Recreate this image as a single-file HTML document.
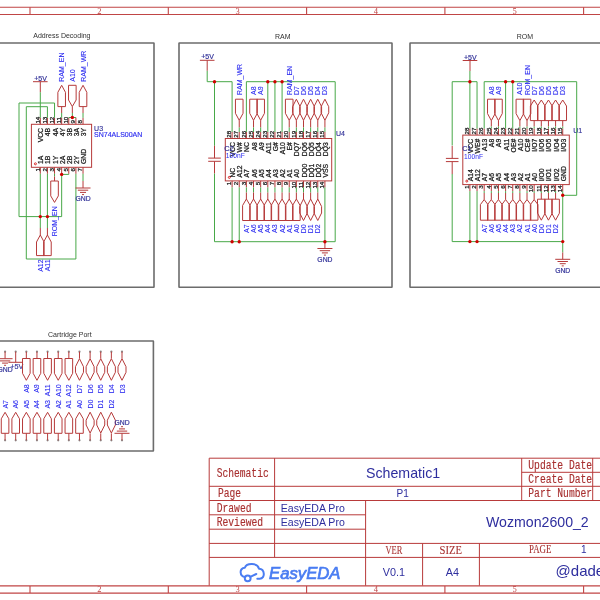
<!DOCTYPE html><html><head><meta charset="utf-8"><style>html,body{margin:0;padding:0;background:#fff;overflow:hidden}svg{display:block;will-change:transform}</style></head><body>
<svg width="600" height="600" viewBox="0 0 600 600">
<rect width="600" height="600" fill="#ffffff"/>
<line x1="0" y1="7.25" x2="600" y2="7.25" stroke="#c04545" stroke-width="1.2"/>
<line x1="0" y1="14.5" x2="600" y2="14.5" stroke="#c04545" stroke-width="1.2"/>
<line x1="0" y1="585.9" x2="600" y2="585.9" stroke="#c04545" stroke-width="1.2"/>
<line x1="0" y1="593.1" x2="600" y2="593.1" stroke="#c04545" stroke-width="1.2"/>
<line x1="30" y1="7.25" x2="30" y2="14.5" stroke="#c04545" stroke-width="1.1"/>
<line x1="30" y1="585.9" x2="30" y2="593.1" stroke="#c04545" stroke-width="1.1"/>
<line x1="168.3" y1="7.25" x2="168.3" y2="14.5" stroke="#c04545" stroke-width="1.1"/>
<line x1="168.3" y1="585.9" x2="168.3" y2="593.1" stroke="#c04545" stroke-width="1.1"/>
<line x1="306.6" y1="7.25" x2="306.6" y2="14.5" stroke="#c04545" stroke-width="1.1"/>
<line x1="306.6" y1="585.9" x2="306.6" y2="593.1" stroke="#c04545" stroke-width="1.1"/>
<line x1="444.9" y1="7.25" x2="444.9" y2="14.5" stroke="#c04545" stroke-width="1.1"/>
<line x1="444.9" y1="585.9" x2="444.9" y2="593.1" stroke="#c04545" stroke-width="1.1"/>
<line x1="583.6" y1="7.25" x2="583.6" y2="14.5" stroke="#c04545" stroke-width="1.1"/>
<line x1="583.6" y1="585.9" x2="583.6" y2="593.1" stroke="#c04545" stroke-width="1.1"/>
<text x="99.25" y="14" font-size="8.5" fill="#c04545" text-anchor="middle" font-family="Liberation Serif" >2</text>
<text x="99.25" y="592.2" font-size="8.5" fill="#c04545" text-anchor="middle" font-family="Liberation Serif" >2</text>
<text x="237.5" y="14" font-size="8.5" fill="#c04545" text-anchor="middle" font-family="Liberation Serif" >3</text>
<text x="237.5" y="592.2" font-size="8.5" fill="#c04545" text-anchor="middle" font-family="Liberation Serif" >3</text>
<text x="375.8" y="14" font-size="8.5" fill="#c04545" text-anchor="middle" font-family="Liberation Serif" >4</text>
<text x="375.8" y="592.2" font-size="8.5" fill="#c04545" text-anchor="middle" font-family="Liberation Serif" >4</text>
<text x="514.5" y="14" font-size="8.5" fill="#c04545" text-anchor="middle" font-family="Liberation Serif" >5</text>
<text x="514.5" y="592.2" font-size="8.5" fill="#c04545" text-anchor="middle" font-family="Liberation Serif" >5</text>
<rect x="-10" y="43" width="164" height="244.3" rx="0.3" fill="none" stroke="#6c6c6c" stroke-width="1.6"/>
<rect x="179" y="43" width="213" height="244.3" rx="0.3" fill="none" stroke="#6c6c6c" stroke-width="1.6"/>
<rect x="410" y="43" width="210" height="244.3" rx="0.3" fill="none" stroke="#6c6c6c" stroke-width="1.6"/>
<rect x="-10" y="341" width="163.4" height="110" rx="0.3" fill="none" stroke="#6c6c6c" stroke-width="1.6"/>
<text x="33.3" y="38.4" font-size="7" fill="#303030" text-anchor="start" font-family="Liberation Sans" >Address Decoding</text>
<text x="275" y="38.6" font-size="7" fill="#303030" text-anchor="start" font-family="Liberation Sans" >RAM</text>
<text x="516.7" y="38.6" font-size="7" fill="#303030" text-anchor="start" font-family="Liberation Sans" >ROM</text>
<text x="48" y="336.7" font-size="7" fill="#303030" text-anchor="start" font-family="Liberation Sans" >Cartridge Port</text>
<rect x="31.4" y="124.3" width="60.2" height="43" fill="none" stroke="#b63a3a" stroke-width="1"/>
<line x1="40.3" y1="117.8" x2="40.3" y2="124.3" stroke="#b63a3a" stroke-width="1.0"/>
<text transform="translate(39.52,123.6) rotate(-90)" font-size="6.2" fill="#202020" text-anchor="start" font-family="Liberation Sans" stroke="#202020" stroke-width="0.25">14</text>
<text transform="translate(43.33,128) rotate(-90)" font-size="6.8" fill="#202020" text-anchor="end" font-family="Liberation Sans" stroke="#202020" stroke-width="0.25">VCC</text>
<line x1="40.3" y1="167.3" x2="40.3" y2="173.8" stroke="#b63a3a" stroke-width="1.0"/>
<text transform="translate(39.52,168.1) rotate(-90)" font-size="6.2" fill="#202020" text-anchor="end" font-family="Liberation Sans" stroke="#202020" stroke-width="0.25">1</text>
<text transform="translate(43.33,164) rotate(-90)" font-size="6.8" fill="#202020" text-anchor="start" font-family="Liberation Sans" stroke="#202020" stroke-width="0.25">1A</text>
<line x1="47.42" y1="117.8" x2="47.42" y2="124.3" stroke="#b63a3a" stroke-width="1.0"/>
<text transform="translate(46.64,123.6) rotate(-90)" font-size="6.2" fill="#202020" text-anchor="start" font-family="Liberation Sans" stroke="#202020" stroke-width="0.25">13</text>
<text transform="translate(50.45,128) rotate(-90)" font-size="6.8" fill="#202020" text-anchor="end" font-family="Liberation Sans" stroke="#202020" stroke-width="0.25">4B</text>
<line x1="47.42" y1="167.3" x2="47.42" y2="173.8" stroke="#b63a3a" stroke-width="1.0"/>
<text transform="translate(46.64,168.1) rotate(-90)" font-size="6.2" fill="#202020" text-anchor="end" font-family="Liberation Sans" stroke="#202020" stroke-width="0.25">2</text>
<text transform="translate(50.45,164) rotate(-90)" font-size="6.8" fill="#202020" text-anchor="start" font-family="Liberation Sans" stroke="#202020" stroke-width="0.25">1B</text>
<line x1="54.54" y1="117.8" x2="54.54" y2="124.3" stroke="#b63a3a" stroke-width="1.0"/>
<text transform="translate(53.76,123.6) rotate(-90)" font-size="6.2" fill="#202020" text-anchor="start" font-family="Liberation Sans" stroke="#202020" stroke-width="0.25">12</text>
<text transform="translate(57.57,128) rotate(-90)" font-size="6.8" fill="#202020" text-anchor="end" font-family="Liberation Sans" stroke="#202020" stroke-width="0.25">4A</text>
<line x1="54.54" y1="167.3" x2="54.54" y2="173.8" stroke="#b63a3a" stroke-width="1.0"/>
<text transform="translate(53.76,168.1) rotate(-90)" font-size="6.2" fill="#202020" text-anchor="end" font-family="Liberation Sans" stroke="#202020" stroke-width="0.25">3</text>
<text transform="translate(57.57,164) rotate(-90)" font-size="6.8" fill="#202020" text-anchor="start" font-family="Liberation Sans" stroke="#202020" stroke-width="0.25">1Y</text>
<line x1="61.66" y1="117.8" x2="61.66" y2="124.3" stroke="#b63a3a" stroke-width="1.0"/>
<text transform="translate(60.88,123.6) rotate(-90)" font-size="6.2" fill="#202020" text-anchor="start" font-family="Liberation Sans" stroke="#202020" stroke-width="0.25">11</text>
<text transform="translate(64.69,128) rotate(-90)" font-size="6.8" fill="#202020" text-anchor="end" font-family="Liberation Sans" stroke="#202020" stroke-width="0.25">4Y</text>
<line x1="61.66" y1="167.3" x2="61.66" y2="173.8" stroke="#b63a3a" stroke-width="1.0"/>
<text transform="translate(60.88,168.1) rotate(-90)" font-size="6.2" fill="#202020" text-anchor="end" font-family="Liberation Sans" stroke="#202020" stroke-width="0.25">4</text>
<text transform="translate(64.69,164) rotate(-90)" font-size="6.8" fill="#202020" text-anchor="start" font-family="Liberation Sans" stroke="#202020" stroke-width="0.25">2A</text>
<line x1="68.78" y1="117.8" x2="68.78" y2="124.3" stroke="#b63a3a" stroke-width="1.0"/>
<text transform="translate(68,123.6) rotate(-90)" font-size="6.2" fill="#202020" text-anchor="start" font-family="Liberation Sans" stroke="#202020" stroke-width="0.25">10</text>
<text transform="translate(71.81,128) rotate(-90)" font-size="6.8" fill="#202020" text-anchor="end" font-family="Liberation Sans" stroke="#202020" stroke-width="0.25">3B</text>
<line x1="68.78" y1="167.3" x2="68.78" y2="173.8" stroke="#b63a3a" stroke-width="1.0"/>
<text transform="translate(68,168.1) rotate(-90)" font-size="6.2" fill="#202020" text-anchor="end" font-family="Liberation Sans" stroke="#202020" stroke-width="0.25">5</text>
<text transform="translate(71.81,164) rotate(-90)" font-size="6.8" fill="#202020" text-anchor="start" font-family="Liberation Sans" stroke="#202020" stroke-width="0.25">2B</text>
<line x1="75.9" y1="117.8" x2="75.9" y2="124.3" stroke="#b63a3a" stroke-width="1.0"/>
<text transform="translate(75.12,123.6) rotate(-90)" font-size="6.2" fill="#202020" text-anchor="start" font-family="Liberation Sans" stroke="#202020" stroke-width="0.25">9</text>
<text transform="translate(78.93,128) rotate(-90)" font-size="6.8" fill="#202020" text-anchor="end" font-family="Liberation Sans" stroke="#202020" stroke-width="0.25">3A</text>
<line x1="75.9" y1="167.3" x2="75.9" y2="173.8" stroke="#b63a3a" stroke-width="1.0"/>
<text transform="translate(75.12,168.1) rotate(-90)" font-size="6.2" fill="#202020" text-anchor="end" font-family="Liberation Sans" stroke="#202020" stroke-width="0.25">6</text>
<text transform="translate(78.93,164) rotate(-90)" font-size="6.8" fill="#202020" text-anchor="start" font-family="Liberation Sans" stroke="#202020" stroke-width="0.25">2Y</text>
<line x1="83.02" y1="117.8" x2="83.02" y2="124.3" stroke="#b63a3a" stroke-width="1.0"/>
<text transform="translate(82.24,123.6) rotate(-90)" font-size="6.2" fill="#202020" text-anchor="start" font-family="Liberation Sans" stroke="#202020" stroke-width="0.25">8</text>
<text transform="translate(86.05,128) rotate(-90)" font-size="6.8" fill="#202020" text-anchor="end" font-family="Liberation Sans" stroke="#202020" stroke-width="0.25">3Y</text>
<line x1="83.02" y1="167.3" x2="83.02" y2="173.8" stroke="#b63a3a" stroke-width="1.0"/>
<text transform="translate(82.24,168.1) rotate(-90)" font-size="6.2" fill="#202020" text-anchor="end" font-family="Liberation Sans" stroke="#202020" stroke-width="0.25">7</text>
<text transform="translate(86.05,164) rotate(-90)" font-size="6.8" fill="#202020" text-anchor="start" font-family="Liberation Sans" stroke="#202020" stroke-width="0.25">GND</text>
<circle cx="35.4" cy="163.8" r="1" fill="none" stroke="#d00000" stroke-width="0.8"/>
<text x="94.1" y="130.8" font-size="7" fill="#34349a" text-anchor="start" font-family="Liberation Sans" stroke="#34349a" stroke-width="0.15">U3</text>
<text x="94.1" y="137.2" font-size="7" fill="#2c2cf0" text-anchor="start" font-family="Liberation Sans" stroke="#2c2cf0" stroke-width="0.15">SN74ALS00AN</text>
<line x1="33" y1="81.7" x2="47.6" y2="81.7" stroke="#b63a3a" stroke-width="1.0"/>
<line x1="40.3" y1="81.7" x2="40.3" y2="92.2" stroke="#b63a3a" stroke-width="1.0"/>
<text x="40.6" y="80.8" font-size="7.0" fill="#34349a" text-anchor="middle" font-family="Liberation Sans" stroke="#34349a" stroke-width="0.2">+5V</text>
<polyline points="40.3,92.2 40.3,117.8" stroke="#48a848" stroke-width="1.0" fill="none" stroke-linejoin="miter"/>
<polygon points="61.66,85.3 65.46,92.3 65.46,106.6 57.86,106.6 57.86,92.3" stroke="#b63a3a" stroke-width="1.0" fill="none" stroke-linejoin="miter"/>
<line x1="61.66" y1="106.6" x2="61.66" y2="113" stroke="#b63a3a" stroke-width="1.0"/>
<polyline points="61.66,113 61.66,117.8" stroke="#48a848" stroke-width="1.0" fill="none" stroke-linejoin="miter"/>
<text transform="translate(64.17,81.7) rotate(-90)" font-size="7.0" fill="#2c2cf0" text-anchor="start" font-family="Liberation Sans" stroke="#2c2cf0" stroke-width="0.1">RAM_EN</text>
<polygon points="68.54,85.3 76.14,85.3 76.14,100 72.34,106.5 68.54,100" stroke="#b63a3a" stroke-width="1.0" fill="none" stroke-linejoin="miter"/>
<line x1="72.34" y1="106.5" x2="72.34" y2="113" stroke="#b63a3a" stroke-width="1.0"/>
<polyline points="72.34,113 72.34,117.5" stroke="#48a848" stroke-width="1.0" fill="none" stroke-linejoin="miter"/>
<text transform="translate(74.85,81.7) rotate(-90)" font-size="7.0" fill="#2c2cf0" text-anchor="start" font-family="Liberation Sans" stroke="#2c2cf0" stroke-width="0.1">A10</text>
<polygon points="83.02,85.3 86.82,92.3 86.82,106.6 79.22,106.6 79.22,92.3" stroke="#b63a3a" stroke-width="1.0" fill="none" stroke-linejoin="miter"/>
<line x1="83.02" y1="106.6" x2="83.02" y2="113" stroke="#b63a3a" stroke-width="1.0"/>
<polyline points="83.02,113 83.02,117.8" stroke="#48a848" stroke-width="1.0" fill="none" stroke-linejoin="miter"/>
<text transform="translate(85.53,81.7) rotate(-90)" font-size="7.0" fill="#2c2cf0" text-anchor="start" font-family="Liberation Sans" stroke="#2c2cf0" stroke-width="0.1">RAM_WR</text>
<polyline points="68.78,117.8 68.78,117.5 75.9,117.5 75.9,117.8" stroke="#48a848" stroke-width="1.0" fill="none" stroke-linejoin="miter"/>
<polyline points="54.54,117.8 54.54,103 19,103 19,216.6 61.66,216.6 61.66,173.8" stroke="#48a848" stroke-width="1.0" fill="none" stroke-linejoin="miter"/>
<polyline points="47.42,117.8 47.42,106.7 26.3,106.7 26.3,259 75.9,259 75.9,173.8" stroke="#48a848" stroke-width="1.0" fill="none" stroke-linejoin="miter"/>
<polyline points="68.78,173.8 68.78,174.4 61.66,174.4" stroke="#48a848" stroke-width="1.0" fill="none" stroke-linejoin="miter"/>
<polyline points="40.3,173.8 40.3,228" stroke="#48a848" stroke-width="1.0" fill="none" stroke-linejoin="miter"/>
<line x1="40.3" y1="228" x2="40.3" y2="235" stroke="#b63a3a" stroke-width="1.0"/>
<polygon points="40.3,235 44.1,242 44.1,255.6 36.5,255.6 36.5,242" stroke="#b63a3a" stroke-width="1.0" fill="none" stroke-linejoin="miter"/>
<text transform="translate(42.81,259.4) rotate(-90)" font-size="7.0" fill="#2c2cf0" text-anchor="end" font-family="Liberation Sans" stroke="#2c2cf0" stroke-width="0.1">A12</text>
<polyline points="47.42,173.8 47.42,228" stroke="#48a848" stroke-width="1.0" fill="none" stroke-linejoin="miter"/>
<line x1="47.42" y1="228" x2="47.42" y2="235" stroke="#b63a3a" stroke-width="1.0"/>
<polygon points="47.42,235 51.22,242 51.22,255.6 43.62,255.6 43.62,242" stroke="#b63a3a" stroke-width="1.0" fill="none" stroke-linejoin="miter"/>
<text transform="translate(49.93,259.4) rotate(-90)" font-size="7.0" fill="#2c2cf0" text-anchor="end" font-family="Liberation Sans" stroke="#2c2cf0" stroke-width="0.1">A11</text>
<polyline points="54.54,173.8 54.54,176.5" stroke="#48a848" stroke-width="1.0" fill="none" stroke-linejoin="miter"/>
<line x1="54.54" y1="176.5" x2="54.54" y2="181" stroke="#b63a3a" stroke-width="1.0"/>
<polygon points="50.74,181 58.34,181 58.34,195.9 54.54,202.4 50.74,195.9" stroke="#b63a3a" stroke-width="1.0" fill="none" stroke-linejoin="miter"/>
<text transform="translate(57.05,206.3) rotate(-90)" font-size="7.0" fill="#2c2cf0" text-anchor="end" font-family="Liberation Sans" stroke="#2c2cf0" stroke-width="0.1">ROM_EN</text>
<polyline points="83.02,173.8 83.02,181" stroke="#48a848" stroke-width="1.0" fill="none" stroke-linejoin="miter"/>
<line x1="83.02" y1="181" x2="83.02" y2="188" stroke="#b63a3a" stroke-width="1.0"/>
<line x1="75.52" y1="188" x2="90.52" y2="188" stroke="#b63a3a" stroke-width="1.0"/>
<line x1="77.82" y1="190.2" x2="88.22" y2="190.2" stroke="#b63a3a" stroke-width="1.0"/>
<line x1="80.02" y1="192.4" x2="86.02" y2="192.4" stroke="#b63a3a" stroke-width="1.0"/>
<line x1="82.02" y1="194.6" x2="84.02" y2="194.6" stroke="#b63a3a" stroke-width="1.0"/>
<text x="83.02" y="201" font-size="6.8" fill="#34349a" text-anchor="middle" font-family="Liberation Sans" stroke="#34349a" stroke-width="0.2">GND</text>
<rect x="225.3" y="138.5" width="106.4" height="42.4" fill="none" stroke="#b63a3a" stroke-width="1"/>
<line x1="232.1" y1="132" x2="232.1" y2="138.5" stroke="#b63a3a" stroke-width="1.0"/>
<text transform="translate(231.32,137.8) rotate(-90)" font-size="6.2" fill="#202020" text-anchor="start" font-family="Liberation Sans" stroke="#202020" stroke-width="0.25">28</text>
<text transform="translate(235.13,142.2) rotate(-90)" font-size="6.8" fill="#202020" text-anchor="end" font-family="Liberation Sans" stroke="#202020" stroke-width="0.25">VCC</text>
<line x1="232.1" y1="180.9" x2="232.1" y2="187.4" stroke="#b63a3a" stroke-width="1.0"/>
<text transform="translate(231.32,181.7) rotate(-90)" font-size="6.2" fill="#202020" text-anchor="end" font-family="Liberation Sans" stroke="#202020" stroke-width="0.25">1</text>
<text transform="translate(235.13,177.6) rotate(-90)" font-size="6.8" fill="#202020" text-anchor="start" font-family="Liberation Sans" stroke="#202020" stroke-width="0.25">NC</text>
<line x1="239.24" y1="132" x2="239.24" y2="138.5" stroke="#b63a3a" stroke-width="1.0"/>
<text transform="translate(238.46,137.8) rotate(-90)" font-size="6.2" fill="#202020" text-anchor="start" font-family="Liberation Sans" stroke="#202020" stroke-width="0.25">27</text>
<text transform="translate(242.27,142.2) rotate(-90)" font-size="6.8" fill="#202020" text-anchor="end" font-family="Liberation Sans" stroke="#202020" stroke-width="0.25">W#</text>
<line x1="239.24" y1="180.9" x2="239.24" y2="187.4" stroke="#b63a3a" stroke-width="1.0"/>
<text transform="translate(238.46,181.7) rotate(-90)" font-size="6.2" fill="#202020" text-anchor="end" font-family="Liberation Sans" stroke="#202020" stroke-width="0.25">2</text>
<text transform="translate(242.27,177.6) rotate(-90)" font-size="6.8" fill="#202020" text-anchor="start" font-family="Liberation Sans" stroke="#202020" stroke-width="0.25">A12</text>
<line x1="246.38" y1="132" x2="246.38" y2="138.5" stroke="#b63a3a" stroke-width="1.0"/>
<text transform="translate(245.6,137.8) rotate(-90)" font-size="6.2" fill="#202020" text-anchor="start" font-family="Liberation Sans" stroke="#202020" stroke-width="0.25">26</text>
<text transform="translate(249.41,142.2) rotate(-90)" font-size="6.8" fill="#202020" text-anchor="end" font-family="Liberation Sans" stroke="#202020" stroke-width="0.25">NC</text>
<line x1="246.38" y1="180.9" x2="246.38" y2="187.4" stroke="#b63a3a" stroke-width="1.0"/>
<text transform="translate(245.6,181.7) rotate(-90)" font-size="6.2" fill="#202020" text-anchor="end" font-family="Liberation Sans" stroke="#202020" stroke-width="0.25">3</text>
<text transform="translate(249.41,177.6) rotate(-90)" font-size="6.8" fill="#202020" text-anchor="start" font-family="Liberation Sans" stroke="#202020" stroke-width="0.25">A7</text>
<line x1="253.52" y1="132" x2="253.52" y2="138.5" stroke="#b63a3a" stroke-width="1.0"/>
<text transform="translate(252.74,137.8) rotate(-90)" font-size="6.2" fill="#202020" text-anchor="start" font-family="Liberation Sans" stroke="#202020" stroke-width="0.25">25</text>
<text transform="translate(256.55,142.2) rotate(-90)" font-size="6.8" fill="#202020" text-anchor="end" font-family="Liberation Sans" stroke="#202020" stroke-width="0.25">A8</text>
<line x1="253.52" y1="180.9" x2="253.52" y2="187.4" stroke="#b63a3a" stroke-width="1.0"/>
<text transform="translate(252.74,181.7) rotate(-90)" font-size="6.2" fill="#202020" text-anchor="end" font-family="Liberation Sans" stroke="#202020" stroke-width="0.25">4</text>
<text transform="translate(256.55,177.6) rotate(-90)" font-size="6.8" fill="#202020" text-anchor="start" font-family="Liberation Sans" stroke="#202020" stroke-width="0.25">A6</text>
<line x1="260.66" y1="132" x2="260.66" y2="138.5" stroke="#b63a3a" stroke-width="1.0"/>
<text transform="translate(259.88,137.8) rotate(-90)" font-size="6.2" fill="#202020" text-anchor="start" font-family="Liberation Sans" stroke="#202020" stroke-width="0.25">24</text>
<text transform="translate(263.69,142.2) rotate(-90)" font-size="6.8" fill="#202020" text-anchor="end" font-family="Liberation Sans" stroke="#202020" stroke-width="0.25">A9</text>
<line x1="260.66" y1="180.9" x2="260.66" y2="187.4" stroke="#b63a3a" stroke-width="1.0"/>
<text transform="translate(259.88,181.7) rotate(-90)" font-size="6.2" fill="#202020" text-anchor="end" font-family="Liberation Sans" stroke="#202020" stroke-width="0.25">5</text>
<text transform="translate(263.69,177.6) rotate(-90)" font-size="6.8" fill="#202020" text-anchor="start" font-family="Liberation Sans" stroke="#202020" stroke-width="0.25">A5</text>
<line x1="267.8" y1="132" x2="267.8" y2="138.5" stroke="#b63a3a" stroke-width="1.0"/>
<text transform="translate(267.02,137.8) rotate(-90)" font-size="6.2" fill="#202020" text-anchor="start" font-family="Liberation Sans" stroke="#202020" stroke-width="0.25">23</text>
<text transform="translate(270.83,142.2) rotate(-90)" font-size="6.8" fill="#202020" text-anchor="end" font-family="Liberation Sans" stroke="#202020" stroke-width="0.25">A11</text>
<line x1="267.8" y1="180.9" x2="267.8" y2="187.4" stroke="#b63a3a" stroke-width="1.0"/>
<text transform="translate(267.02,181.7) rotate(-90)" font-size="6.2" fill="#202020" text-anchor="end" font-family="Liberation Sans" stroke="#202020" stroke-width="0.25">6</text>
<text transform="translate(270.83,177.6) rotate(-90)" font-size="6.8" fill="#202020" text-anchor="start" font-family="Liberation Sans" stroke="#202020" stroke-width="0.25">A4</text>
<line x1="274.94" y1="132" x2="274.94" y2="138.5" stroke="#b63a3a" stroke-width="1.0"/>
<text transform="translate(274.16,137.8) rotate(-90)" font-size="6.2" fill="#202020" text-anchor="start" font-family="Liberation Sans" stroke="#202020" stroke-width="0.25">22</text>
<text transform="translate(277.97,142.2) rotate(-90)" font-size="6.8" fill="#202020" text-anchor="end" font-family="Liberation Sans" stroke="#202020" stroke-width="0.25">G#</text>
<line x1="274.94" y1="180.9" x2="274.94" y2="187.4" stroke="#b63a3a" stroke-width="1.0"/>
<text transform="translate(274.16,181.7) rotate(-90)" font-size="6.2" fill="#202020" text-anchor="end" font-family="Liberation Sans" stroke="#202020" stroke-width="0.25">7</text>
<text transform="translate(277.97,177.6) rotate(-90)" font-size="6.8" fill="#202020" text-anchor="start" font-family="Liberation Sans" stroke="#202020" stroke-width="0.25">A3</text>
<line x1="282.08" y1="132" x2="282.08" y2="138.5" stroke="#b63a3a" stroke-width="1.0"/>
<text transform="translate(281.3,137.8) rotate(-90)" font-size="6.2" fill="#202020" text-anchor="start" font-family="Liberation Sans" stroke="#202020" stroke-width="0.25">21</text>
<text transform="translate(285.11,142.2) rotate(-90)" font-size="6.8" fill="#202020" text-anchor="end" font-family="Liberation Sans" stroke="#202020" stroke-width="0.25">A10</text>
<line x1="282.08" y1="180.9" x2="282.08" y2="187.4" stroke="#b63a3a" stroke-width="1.0"/>
<text transform="translate(281.3,181.7) rotate(-90)" font-size="6.2" fill="#202020" text-anchor="end" font-family="Liberation Sans" stroke="#202020" stroke-width="0.25">8</text>
<text transform="translate(285.11,177.6) rotate(-90)" font-size="6.8" fill="#202020" text-anchor="start" font-family="Liberation Sans" stroke="#202020" stroke-width="0.25">A2</text>
<line x1="289.22" y1="132" x2="289.22" y2="138.5" stroke="#b63a3a" stroke-width="1.0"/>
<text transform="translate(288.44,137.8) rotate(-90)" font-size="6.2" fill="#202020" text-anchor="start" font-family="Liberation Sans" stroke="#202020" stroke-width="0.25">20</text>
<text transform="translate(292.25,142.2) rotate(-90)" font-size="6.8" fill="#202020" text-anchor="end" font-family="Liberation Sans" stroke="#202020" stroke-width="0.25">E#</text>
<line x1="289.22" y1="180.9" x2="289.22" y2="187.4" stroke="#b63a3a" stroke-width="1.0"/>
<text transform="translate(288.44,181.7) rotate(-90)" font-size="6.2" fill="#202020" text-anchor="end" font-family="Liberation Sans" stroke="#202020" stroke-width="0.25">9</text>
<text transform="translate(292.25,177.6) rotate(-90)" font-size="6.8" fill="#202020" text-anchor="start" font-family="Liberation Sans" stroke="#202020" stroke-width="0.25">A1</text>
<line x1="296.36" y1="132" x2="296.36" y2="138.5" stroke="#b63a3a" stroke-width="1.0"/>
<text transform="translate(295.58,137.8) rotate(-90)" font-size="6.2" fill="#202020" text-anchor="start" font-family="Liberation Sans" stroke="#202020" stroke-width="0.25">19</text>
<text transform="translate(299.39,142.2) rotate(-90)" font-size="6.8" fill="#202020" text-anchor="end" font-family="Liberation Sans" stroke="#202020" stroke-width="0.25">DQ7</text>
<line x1="296.36" y1="180.9" x2="296.36" y2="187.4" stroke="#b63a3a" stroke-width="1.0"/>
<text transform="translate(295.58,181.7) rotate(-90)" font-size="6.2" fill="#202020" text-anchor="end" font-family="Liberation Sans" stroke="#202020" stroke-width="0.25">10</text>
<text transform="translate(299.39,177.6) rotate(-90)" font-size="6.8" fill="#202020" text-anchor="start" font-family="Liberation Sans" stroke="#202020" stroke-width="0.25">A0</text>
<line x1="303.5" y1="132" x2="303.5" y2="138.5" stroke="#b63a3a" stroke-width="1.0"/>
<text transform="translate(302.72,137.8) rotate(-90)" font-size="6.2" fill="#202020" text-anchor="start" font-family="Liberation Sans" stroke="#202020" stroke-width="0.25">18</text>
<text transform="translate(306.53,142.2) rotate(-90)" font-size="6.8" fill="#202020" text-anchor="end" font-family="Liberation Sans" stroke="#202020" stroke-width="0.25">DQ6</text>
<line x1="303.5" y1="180.9" x2="303.5" y2="187.4" stroke="#b63a3a" stroke-width="1.0"/>
<text transform="translate(302.72,181.7) rotate(-90)" font-size="6.2" fill="#202020" text-anchor="end" font-family="Liberation Sans" stroke="#202020" stroke-width="0.25">11</text>
<text transform="translate(306.53,177.6) rotate(-90)" font-size="6.8" fill="#202020" text-anchor="start" font-family="Liberation Sans" stroke="#202020" stroke-width="0.25">DQ0</text>
<line x1="310.64" y1="132" x2="310.64" y2="138.5" stroke="#b63a3a" stroke-width="1.0"/>
<text transform="translate(309.86,137.8) rotate(-90)" font-size="6.2" fill="#202020" text-anchor="start" font-family="Liberation Sans" stroke="#202020" stroke-width="0.25">17</text>
<text transform="translate(313.67,142.2) rotate(-90)" font-size="6.8" fill="#202020" text-anchor="end" font-family="Liberation Sans" stroke="#202020" stroke-width="0.25">DQ5</text>
<line x1="310.64" y1="180.9" x2="310.64" y2="187.4" stroke="#b63a3a" stroke-width="1.0"/>
<text transform="translate(309.86,181.7) rotate(-90)" font-size="6.2" fill="#202020" text-anchor="end" font-family="Liberation Sans" stroke="#202020" stroke-width="0.25">12</text>
<text transform="translate(313.67,177.6) rotate(-90)" font-size="6.8" fill="#202020" text-anchor="start" font-family="Liberation Sans" stroke="#202020" stroke-width="0.25">DQ1</text>
<line x1="317.78" y1="132" x2="317.78" y2="138.5" stroke="#b63a3a" stroke-width="1.0"/>
<text transform="translate(317,137.8) rotate(-90)" font-size="6.2" fill="#202020" text-anchor="start" font-family="Liberation Sans" stroke="#202020" stroke-width="0.25">16</text>
<text transform="translate(320.81,142.2) rotate(-90)" font-size="6.8" fill="#202020" text-anchor="end" font-family="Liberation Sans" stroke="#202020" stroke-width="0.25">DQ4</text>
<line x1="317.78" y1="180.9" x2="317.78" y2="187.4" stroke="#b63a3a" stroke-width="1.0"/>
<text transform="translate(317,181.7) rotate(-90)" font-size="6.2" fill="#202020" text-anchor="end" font-family="Liberation Sans" stroke="#202020" stroke-width="0.25">13</text>
<text transform="translate(320.81,177.6) rotate(-90)" font-size="6.8" fill="#202020" text-anchor="start" font-family="Liberation Sans" stroke="#202020" stroke-width="0.25">DQ2</text>
<line x1="324.92" y1="132" x2="324.92" y2="138.5" stroke="#b63a3a" stroke-width="1.0"/>
<text transform="translate(324.14,137.8) rotate(-90)" font-size="6.2" fill="#202020" text-anchor="start" font-family="Liberation Sans" stroke="#202020" stroke-width="0.25">15</text>
<text transform="translate(327.95,142.2) rotate(-90)" font-size="6.8" fill="#202020" text-anchor="end" font-family="Liberation Sans" stroke="#202020" stroke-width="0.25">DQ3</text>
<line x1="324.92" y1="180.9" x2="324.92" y2="187.4" stroke="#b63a3a" stroke-width="1.0"/>
<text transform="translate(324.14,181.7) rotate(-90)" font-size="6.2" fill="#202020" text-anchor="end" font-family="Liberation Sans" stroke="#202020" stroke-width="0.25">14</text>
<text transform="translate(327.95,177.6) rotate(-90)" font-size="6.8" fill="#202020" text-anchor="start" font-family="Liberation Sans" stroke="#202020" stroke-width="0.25">VSS</text>
<circle cx="229.3" cy="177.4" r="1" fill="none" stroke="#d00000" stroke-width="0.8"/>
<text x="336" y="136" font-size="7" fill="#34349a" text-anchor="start" font-family="Liberation Sans" stroke="#34349a" stroke-width="0.15">U4</text>
<line x1="199.9" y1="60.3" x2="214.5" y2="60.3" stroke="#b63a3a" stroke-width="1.0"/>
<line x1="207.2" y1="60.3" x2="207.2" y2="70.8" stroke="#b63a3a" stroke-width="1.0"/>
<text x="207.5" y="59.4" font-size="7.0" fill="#34349a" text-anchor="middle" font-family="Liberation Sans" stroke="#34349a" stroke-width="0.2">+5V</text>
<polyline points="207.2,70.8 207.2,81.7 232.1,81.7 232.1,132" stroke="#48a848" stroke-width="1.0" fill="none" stroke-linejoin="miter"/>
<polyline points="214.5,81.7 214.5,145.8" stroke="#48a848" stroke-width="1.0" fill="none" stroke-linejoin="miter"/>
<line x1="214.5" y1="145.8" x2="214.5" y2="158.1" stroke="#b63a3a" stroke-width="1.0"/>
<line x1="214.5" y1="161.3" x2="214.5" y2="173.6" stroke="#b63a3a" stroke-width="1.0"/>
<line x1="208.2" y1="158.1" x2="220.8" y2="158.1" stroke="#b63a3a" stroke-width="1.0"/>
<line x1="208.2" y1="161.3" x2="220.8" y2="161.3" stroke="#b63a3a" stroke-width="1.0"/>
<polyline points="214.5,173.6 214.5,241.7 335.2,241.7 335.2,81.7 246.38,81.7 246.38,132" stroke="#48a848" stroke-width="1.0" fill="none" stroke-linejoin="miter"/>
<polyline points="267.8,81.7 267.8,132" stroke="#48a848" stroke-width="1.0" fill="none" stroke-linejoin="miter"/>
<polyline points="274.94,81.7 274.94,132" stroke="#48a848" stroke-width="1.0" fill="none" stroke-linejoin="miter"/>
<polyline points="282.08,81.7 282.08,132" stroke="#48a848" stroke-width="1.0" fill="none" stroke-linejoin="miter"/>
<text x="224.2" y="150.8" font-size="7.3" fill="#34349a" text-anchor="start" font-family="Liberation Sans" stroke="#34349a" stroke-width="0.15">C2</text>
<text x="225.8" y="157.8" font-size="6.7" fill="#2c2cf0" text-anchor="start" font-family="Liberation Sans" >100nF</text>
<polygon points="235.44,99.2 243.04,99.2 243.04,113.3 239.24,120.3 235.44,113.3" stroke="#b63a3a" stroke-width="1.0" fill="none" stroke-linejoin="miter"/>
<line x1="239.24" y1="120.3" x2="239.24" y2="127.5" stroke="#b63a3a" stroke-width="1.0"/>
<polyline points="239.24,127.5 239.24,132" stroke="#48a848" stroke-width="1.0" fill="none" stroke-linejoin="miter"/>
<text transform="translate(241.75,95) rotate(-90)" font-size="7.0" fill="#2c2cf0" text-anchor="start" font-family="Liberation Sans" stroke="#2c2cf0" stroke-width="0.1">RAM_WR</text>
<polygon points="249.72,99.2 257.32,99.2 257.32,113.3 253.52,120.3 249.72,113.3" stroke="#b63a3a" stroke-width="1.0" fill="none" stroke-linejoin="miter"/>
<line x1="253.52" y1="120.3" x2="253.52" y2="127.5" stroke="#b63a3a" stroke-width="1.0"/>
<polyline points="253.52,127.5 253.52,132" stroke="#48a848" stroke-width="1.0" fill="none" stroke-linejoin="miter"/>
<text transform="translate(256.03,95) rotate(-90)" font-size="7.0" fill="#2c2cf0" text-anchor="start" font-family="Liberation Sans" stroke="#2c2cf0" stroke-width="0.1">A8</text>
<polygon points="256.86,99.2 264.46,99.2 264.46,113.3 260.66,120.3 256.86,113.3" stroke="#b63a3a" stroke-width="1.0" fill="none" stroke-linejoin="miter"/>
<line x1="260.66" y1="120.3" x2="260.66" y2="127.5" stroke="#b63a3a" stroke-width="1.0"/>
<polyline points="260.66,127.5 260.66,132" stroke="#48a848" stroke-width="1.0" fill="none" stroke-linejoin="miter"/>
<text transform="translate(263.17,95) rotate(-90)" font-size="7.0" fill="#2c2cf0" text-anchor="start" font-family="Liberation Sans" stroke="#2c2cf0" stroke-width="0.1">A9</text>
<polygon points="285.42,99.2 293.02,99.2 293.02,113.3 289.22,120.3 285.42,113.3" stroke="#b63a3a" stroke-width="1.0" fill="none" stroke-linejoin="miter"/>
<line x1="289.22" y1="120.3" x2="289.22" y2="127.5" stroke="#b63a3a" stroke-width="1.0"/>
<polyline points="289.22,127.5 289.22,132" stroke="#48a848" stroke-width="1.0" fill="none" stroke-linejoin="miter"/>
<text transform="translate(291.73,95) rotate(-90)" font-size="7.0" fill="#2c2cf0" text-anchor="start" font-family="Liberation Sans" stroke="#2c2cf0" stroke-width="0.1">RAM_EN</text>
<polygon points="296.36,99.2 300.16,106.7 300.16,112.8 296.36,120.3 292.56,112.8 292.56,106.7" stroke="#b63a3a" stroke-width="1.0" fill="none" stroke-linejoin="miter"/>
<line x1="296.36" y1="120.3" x2="296.36" y2="127.5" stroke="#b63a3a" stroke-width="1.0"/>
<polyline points="296.36,127.5 296.36,132" stroke="#48a848" stroke-width="1.0" fill="none" stroke-linejoin="miter"/>
<text transform="translate(298.87,95) rotate(-90)" font-size="7.0" fill="#2c2cf0" text-anchor="start" font-family="Liberation Sans" stroke="#2c2cf0" stroke-width="0.1">D7</text>
<polygon points="303.5,99.2 307.3,106.7 307.3,112.8 303.5,120.3 299.7,112.8 299.7,106.7" stroke="#b63a3a" stroke-width="1.0" fill="none" stroke-linejoin="miter"/>
<line x1="303.5" y1="120.3" x2="303.5" y2="127.5" stroke="#b63a3a" stroke-width="1.0"/>
<polyline points="303.5,127.5 303.5,132" stroke="#48a848" stroke-width="1.0" fill="none" stroke-linejoin="miter"/>
<text transform="translate(306.01,95) rotate(-90)" font-size="7.0" fill="#2c2cf0" text-anchor="start" font-family="Liberation Sans" stroke="#2c2cf0" stroke-width="0.1">D6</text>
<polygon points="310.64,99.2 314.44,106.7 314.44,112.8 310.64,120.3 306.84,112.8 306.84,106.7" stroke="#b63a3a" stroke-width="1.0" fill="none" stroke-linejoin="miter"/>
<line x1="310.64" y1="120.3" x2="310.64" y2="127.5" stroke="#b63a3a" stroke-width="1.0"/>
<polyline points="310.64,127.5 310.64,132" stroke="#48a848" stroke-width="1.0" fill="none" stroke-linejoin="miter"/>
<text transform="translate(313.15,95) rotate(-90)" font-size="7.0" fill="#2c2cf0" text-anchor="start" font-family="Liberation Sans" stroke="#2c2cf0" stroke-width="0.1">D5</text>
<polygon points="317.78,99.2 321.58,106.7 321.58,112.8 317.78,120.3 313.98,112.8 313.98,106.7" stroke="#b63a3a" stroke-width="1.0" fill="none" stroke-linejoin="miter"/>
<line x1="317.78" y1="120.3" x2="317.78" y2="127.5" stroke="#b63a3a" stroke-width="1.0"/>
<polyline points="317.78,127.5 317.78,132" stroke="#48a848" stroke-width="1.0" fill="none" stroke-linejoin="miter"/>
<text transform="translate(320.29,95) rotate(-90)" font-size="7.0" fill="#2c2cf0" text-anchor="start" font-family="Liberation Sans" stroke="#2c2cf0" stroke-width="0.1">D4</text>
<polygon points="324.92,99.2 328.72,106.7 328.72,112.8 324.92,120.3 321.12,112.8 321.12,106.7" stroke="#b63a3a" stroke-width="1.0" fill="none" stroke-linejoin="miter"/>
<line x1="324.92" y1="120.3" x2="324.92" y2="127.5" stroke="#b63a3a" stroke-width="1.0"/>
<polyline points="324.92,127.5 324.92,132" stroke="#48a848" stroke-width="1.0" fill="none" stroke-linejoin="miter"/>
<text transform="translate(327.43,95) rotate(-90)" font-size="7.0" fill="#2c2cf0" text-anchor="start" font-family="Liberation Sans" stroke="#2c2cf0" stroke-width="0.1">D3</text>
<polyline points="232.1,187.4 232.1,241.7" stroke="#48a848" stroke-width="1.0" fill="none" stroke-linejoin="miter"/>
<polyline points="239.24,187.4 239.24,241.7" stroke="#48a848" stroke-width="1.0" fill="none" stroke-linejoin="miter"/>
<polyline points="246.38,187.4 246.38,192.5" stroke="#48a848" stroke-width="1.0" fill="none" stroke-linejoin="miter"/>
<line x1="246.38" y1="192.5" x2="246.38" y2="199" stroke="#b63a3a" stroke-width="1.0"/>
<polygon points="246.38,199 250.18,205.5 250.18,220.5 242.58,220.5 242.58,205.5" stroke="#b63a3a" stroke-width="1.0" fill="none" stroke-linejoin="miter"/>
<polyline points="253.52,187.4 253.52,192.5" stroke="#48a848" stroke-width="1.0" fill="none" stroke-linejoin="miter"/>
<line x1="253.52" y1="192.5" x2="253.52" y2="199" stroke="#b63a3a" stroke-width="1.0"/>
<polygon points="253.52,199 257.32,205.5 257.32,220.5 249.72,220.5 249.72,205.5" stroke="#b63a3a" stroke-width="1.0" fill="none" stroke-linejoin="miter"/>
<polyline points="260.66,187.4 260.66,192.5" stroke="#48a848" stroke-width="1.0" fill="none" stroke-linejoin="miter"/>
<line x1="260.66" y1="192.5" x2="260.66" y2="199" stroke="#b63a3a" stroke-width="1.0"/>
<polygon points="260.66,199 264.46,205.5 264.46,220.5 256.86,220.5 256.86,205.5" stroke="#b63a3a" stroke-width="1.0" fill="none" stroke-linejoin="miter"/>
<polyline points="267.8,187.4 267.8,192.5" stroke="#48a848" stroke-width="1.0" fill="none" stroke-linejoin="miter"/>
<line x1="267.8" y1="192.5" x2="267.8" y2="199" stroke="#b63a3a" stroke-width="1.0"/>
<polygon points="267.8,199 271.6,205.5 271.6,220.5 264,220.5 264,205.5" stroke="#b63a3a" stroke-width="1.0" fill="none" stroke-linejoin="miter"/>
<polyline points="274.94,187.4 274.94,192.5" stroke="#48a848" stroke-width="1.0" fill="none" stroke-linejoin="miter"/>
<line x1="274.94" y1="192.5" x2="274.94" y2="199" stroke="#b63a3a" stroke-width="1.0"/>
<polygon points="274.94,199 278.74,205.5 278.74,220.5 271.14,220.5 271.14,205.5" stroke="#b63a3a" stroke-width="1.0" fill="none" stroke-linejoin="miter"/>
<polyline points="282.08,187.4 282.08,192.5" stroke="#48a848" stroke-width="1.0" fill="none" stroke-linejoin="miter"/>
<line x1="282.08" y1="192.5" x2="282.08" y2="199" stroke="#b63a3a" stroke-width="1.0"/>
<polygon points="282.08,199 285.88,205.5 285.88,220.5 278.28,220.5 278.28,205.5" stroke="#b63a3a" stroke-width="1.0" fill="none" stroke-linejoin="miter"/>
<polyline points="289.22,187.4 289.22,192.5" stroke="#48a848" stroke-width="1.0" fill="none" stroke-linejoin="miter"/>
<line x1="289.22" y1="192.5" x2="289.22" y2="199" stroke="#b63a3a" stroke-width="1.0"/>
<polygon points="289.22,199 293.02,205.5 293.02,220.5 285.42,220.5 285.42,205.5" stroke="#b63a3a" stroke-width="1.0" fill="none" stroke-linejoin="miter"/>
<polyline points="296.36,187.4 296.36,192.5" stroke="#48a848" stroke-width="1.0" fill="none" stroke-linejoin="miter"/>
<line x1="296.36" y1="192.5" x2="296.36" y2="199" stroke="#b63a3a" stroke-width="1.0"/>
<polygon points="296.36,199 300.16,205.5 300.16,220.5 292.56,220.5 292.56,205.5" stroke="#b63a3a" stroke-width="1.0" fill="none" stroke-linejoin="miter"/>
<polyline points="303.5,187.4 303.5,192.5" stroke="#48a848" stroke-width="1.0" fill="none" stroke-linejoin="miter"/>
<line x1="303.5" y1="192.5" x2="303.5" y2="199" stroke="#b63a3a" stroke-width="1.0"/>
<polygon points="303.5,199 307.3,206.5 307.3,213 303.5,220.5 299.7,213 299.7,206.5" stroke="#b63a3a" stroke-width="1.0" fill="none" stroke-linejoin="miter"/>
<polyline points="310.64,187.4 310.64,192.5" stroke="#48a848" stroke-width="1.0" fill="none" stroke-linejoin="miter"/>
<line x1="310.64" y1="192.5" x2="310.64" y2="199" stroke="#b63a3a" stroke-width="1.0"/>
<polygon points="310.64,199 314.44,206.5 314.44,213 310.64,220.5 306.84,213 306.84,206.5" stroke="#b63a3a" stroke-width="1.0" fill="none" stroke-linejoin="miter"/>
<polyline points="317.78,187.4 317.78,192.5" stroke="#48a848" stroke-width="1.0" fill="none" stroke-linejoin="miter"/>
<line x1="317.78" y1="192.5" x2="317.78" y2="199" stroke="#b63a3a" stroke-width="1.0"/>
<polygon points="317.78,199 321.58,206.5 321.58,213 317.78,220.5 313.98,213 313.98,206.5" stroke="#b63a3a" stroke-width="1.0" fill="none" stroke-linejoin="miter"/>
<polyline points="324.92,187.4 324.92,241.7" stroke="#48a848" stroke-width="1.0" fill="none" stroke-linejoin="miter"/>
<text transform="translate(248.89,224.4) rotate(-90)" font-size="7.0" fill="#2c2cf0" text-anchor="end" font-family="Liberation Sans" stroke="#2c2cf0" stroke-width="0.1">A7</text>
<text transform="translate(256.03,224.4) rotate(-90)" font-size="7.0" fill="#2c2cf0" text-anchor="end" font-family="Liberation Sans" stroke="#2c2cf0" stroke-width="0.1">A6</text>
<text transform="translate(263.17,224.4) rotate(-90)" font-size="7.0" fill="#2c2cf0" text-anchor="end" font-family="Liberation Sans" stroke="#2c2cf0" stroke-width="0.1">A5</text>
<text transform="translate(270.31,224.4) rotate(-90)" font-size="7.0" fill="#2c2cf0" text-anchor="end" font-family="Liberation Sans" stroke="#2c2cf0" stroke-width="0.1">A4</text>
<text transform="translate(277.45,224.4) rotate(-90)" font-size="7.0" fill="#2c2cf0" text-anchor="end" font-family="Liberation Sans" stroke="#2c2cf0" stroke-width="0.1">A3</text>
<text transform="translate(284.59,224.4) rotate(-90)" font-size="7.0" fill="#2c2cf0" text-anchor="end" font-family="Liberation Sans" stroke="#2c2cf0" stroke-width="0.1">A2</text>
<text transform="translate(291.73,224.4) rotate(-90)" font-size="7.0" fill="#2c2cf0" text-anchor="end" font-family="Liberation Sans" stroke="#2c2cf0" stroke-width="0.1">A1</text>
<text transform="translate(298.87,224.4) rotate(-90)" font-size="7.0" fill="#2c2cf0" text-anchor="end" font-family="Liberation Sans" stroke="#2c2cf0" stroke-width="0.1">A0</text>
<text transform="translate(306.01,224.4) rotate(-90)" font-size="7.0" fill="#2c2cf0" text-anchor="end" font-family="Liberation Sans" stroke="#2c2cf0" stroke-width="0.1">D0</text>
<text transform="translate(313.15,224.4) rotate(-90)" font-size="7.0" fill="#2c2cf0" text-anchor="end" font-family="Liberation Sans" stroke="#2c2cf0" stroke-width="0.1">D1</text>
<text transform="translate(320.29,224.4) rotate(-90)" font-size="7.0" fill="#2c2cf0" text-anchor="end" font-family="Liberation Sans" stroke="#2c2cf0" stroke-width="0.1">D2</text>
<line x1="324.92" y1="241.7" x2="324.92" y2="248.5" stroke="#b63a3a" stroke-width="1.0"/>
<line x1="317.42" y1="248.5" x2="332.42" y2="248.5" stroke="#b63a3a" stroke-width="1.0"/>
<line x1="319.72" y1="250.7" x2="330.12" y2="250.7" stroke="#b63a3a" stroke-width="1.0"/>
<line x1="321.92" y1="252.9" x2="327.92" y2="252.9" stroke="#b63a3a" stroke-width="1.0"/>
<line x1="323.92" y1="255.1" x2="325.92" y2="255.1" stroke="#b63a3a" stroke-width="1.0"/>
<text x="324.92" y="261.5" font-size="6.8" fill="#34349a" text-anchor="middle" font-family="Liberation Sans" stroke="#34349a" stroke-width="0.2">GND</text>
<rect x="462.8" y="135.1" width="106.5" height="49.5" fill="none" stroke="#b63a3a" stroke-width="1"/>
<line x1="469.9" y1="128.6" x2="469.9" y2="135.1" stroke="#b63a3a" stroke-width="1.0"/>
<text transform="translate(469.12,134.4) rotate(-90)" font-size="6.2" fill="#202020" text-anchor="start" font-family="Liberation Sans" stroke="#202020" stroke-width="0.25">28</text>
<text transform="translate(472.93,138.8) rotate(-90)" font-size="6.8" fill="#202020" text-anchor="end" font-family="Liberation Sans" stroke="#202020" stroke-width="0.25">VCC</text>
<line x1="469.9" y1="184.6" x2="469.9" y2="191.1" stroke="#b63a3a" stroke-width="1.0"/>
<text transform="translate(469.12,185.4) rotate(-90)" font-size="6.2" fill="#202020" text-anchor="end" font-family="Liberation Sans" stroke="#202020" stroke-width="0.25">1</text>
<text transform="translate(472.93,181.3) rotate(-90)" font-size="6.8" fill="#202020" text-anchor="start" font-family="Liberation Sans" stroke="#202020" stroke-width="0.25">A14</text>
<line x1="477.04" y1="128.6" x2="477.04" y2="135.1" stroke="#b63a3a" stroke-width="1.0"/>
<text transform="translate(476.26,134.4) rotate(-90)" font-size="6.2" fill="#202020" text-anchor="start" font-family="Liberation Sans" stroke="#202020" stroke-width="0.25">27</text>
<text transform="translate(480.07,138.8) rotate(-90)" font-size="6.8" fill="#202020" text-anchor="end" font-family="Liberation Sans" stroke="#202020" stroke-width="0.25">WE#</text>
<line x1="477.04" y1="184.6" x2="477.04" y2="191.1" stroke="#b63a3a" stroke-width="1.0"/>
<text transform="translate(476.26,185.4) rotate(-90)" font-size="6.2" fill="#202020" text-anchor="end" font-family="Liberation Sans" stroke="#202020" stroke-width="0.25">2</text>
<text transform="translate(480.07,181.3) rotate(-90)" font-size="6.8" fill="#202020" text-anchor="start" font-family="Liberation Sans" stroke="#202020" stroke-width="0.25">A12</text>
<line x1="484.18" y1="128.6" x2="484.18" y2="135.1" stroke="#b63a3a" stroke-width="1.0"/>
<text transform="translate(483.4,134.4) rotate(-90)" font-size="6.2" fill="#202020" text-anchor="start" font-family="Liberation Sans" stroke="#202020" stroke-width="0.25">26</text>
<text transform="translate(487.21,138.8) rotate(-90)" font-size="6.8" fill="#202020" text-anchor="end" font-family="Liberation Sans" stroke="#202020" stroke-width="0.25">A13</text>
<line x1="484.18" y1="184.6" x2="484.18" y2="191.1" stroke="#b63a3a" stroke-width="1.0"/>
<text transform="translate(483.4,185.4) rotate(-90)" font-size="6.2" fill="#202020" text-anchor="end" font-family="Liberation Sans" stroke="#202020" stroke-width="0.25">3</text>
<text transform="translate(487.21,181.3) rotate(-90)" font-size="6.8" fill="#202020" text-anchor="start" font-family="Liberation Sans" stroke="#202020" stroke-width="0.25">A7</text>
<line x1="491.32" y1="128.6" x2="491.32" y2="135.1" stroke="#b63a3a" stroke-width="1.0"/>
<text transform="translate(490.54,134.4) rotate(-90)" font-size="6.2" fill="#202020" text-anchor="start" font-family="Liberation Sans" stroke="#202020" stroke-width="0.25">25</text>
<text transform="translate(494.35,138.8) rotate(-90)" font-size="6.8" fill="#202020" text-anchor="end" font-family="Liberation Sans" stroke="#202020" stroke-width="0.25">A8</text>
<line x1="491.32" y1="184.6" x2="491.32" y2="191.1" stroke="#b63a3a" stroke-width="1.0"/>
<text transform="translate(490.54,185.4) rotate(-90)" font-size="6.2" fill="#202020" text-anchor="end" font-family="Liberation Sans" stroke="#202020" stroke-width="0.25">4</text>
<text transform="translate(494.35,181.3) rotate(-90)" font-size="6.8" fill="#202020" text-anchor="start" font-family="Liberation Sans" stroke="#202020" stroke-width="0.25">A6</text>
<line x1="498.46" y1="128.6" x2="498.46" y2="135.1" stroke="#b63a3a" stroke-width="1.0"/>
<text transform="translate(497.68,134.4) rotate(-90)" font-size="6.2" fill="#202020" text-anchor="start" font-family="Liberation Sans" stroke="#202020" stroke-width="0.25">24</text>
<text transform="translate(501.49,138.8) rotate(-90)" font-size="6.8" fill="#202020" text-anchor="end" font-family="Liberation Sans" stroke="#202020" stroke-width="0.25">A9</text>
<line x1="498.46" y1="184.6" x2="498.46" y2="191.1" stroke="#b63a3a" stroke-width="1.0"/>
<text transform="translate(497.68,185.4) rotate(-90)" font-size="6.2" fill="#202020" text-anchor="end" font-family="Liberation Sans" stroke="#202020" stroke-width="0.25">5</text>
<text transform="translate(501.49,181.3) rotate(-90)" font-size="6.8" fill="#202020" text-anchor="start" font-family="Liberation Sans" stroke="#202020" stroke-width="0.25">A5</text>
<line x1="505.6" y1="128.6" x2="505.6" y2="135.1" stroke="#b63a3a" stroke-width="1.0"/>
<text transform="translate(504.82,134.4) rotate(-90)" font-size="6.2" fill="#202020" text-anchor="start" font-family="Liberation Sans" stroke="#202020" stroke-width="0.25">23</text>
<text transform="translate(508.63,138.8) rotate(-90)" font-size="6.8" fill="#202020" text-anchor="end" font-family="Liberation Sans" stroke="#202020" stroke-width="0.25">A11</text>
<line x1="505.6" y1="184.6" x2="505.6" y2="191.1" stroke="#b63a3a" stroke-width="1.0"/>
<text transform="translate(504.82,185.4) rotate(-90)" font-size="6.2" fill="#202020" text-anchor="end" font-family="Liberation Sans" stroke="#202020" stroke-width="0.25">6</text>
<text transform="translate(508.63,181.3) rotate(-90)" font-size="6.8" fill="#202020" text-anchor="start" font-family="Liberation Sans" stroke="#202020" stroke-width="0.25">A4</text>
<line x1="512.74" y1="128.6" x2="512.74" y2="135.1" stroke="#b63a3a" stroke-width="1.0"/>
<text transform="translate(511.96,134.4) rotate(-90)" font-size="6.2" fill="#202020" text-anchor="start" font-family="Liberation Sans" stroke="#202020" stroke-width="0.25">22</text>
<text transform="translate(515.77,138.8) rotate(-90)" font-size="6.8" fill="#202020" text-anchor="end" font-family="Liberation Sans" stroke="#202020" stroke-width="0.25">OE#</text>
<line x1="512.74" y1="184.6" x2="512.74" y2="191.1" stroke="#b63a3a" stroke-width="1.0"/>
<text transform="translate(511.96,185.4) rotate(-90)" font-size="6.2" fill="#202020" text-anchor="end" font-family="Liberation Sans" stroke="#202020" stroke-width="0.25">7</text>
<text transform="translate(515.77,181.3) rotate(-90)" font-size="6.8" fill="#202020" text-anchor="start" font-family="Liberation Sans" stroke="#202020" stroke-width="0.25">A3</text>
<line x1="519.88" y1="128.6" x2="519.88" y2="135.1" stroke="#b63a3a" stroke-width="1.0"/>
<text transform="translate(519.1,134.4) rotate(-90)" font-size="6.2" fill="#202020" text-anchor="start" font-family="Liberation Sans" stroke="#202020" stroke-width="0.25">21</text>
<text transform="translate(522.91,138.8) rotate(-90)" font-size="6.8" fill="#202020" text-anchor="end" font-family="Liberation Sans" stroke="#202020" stroke-width="0.25">A10</text>
<line x1="519.88" y1="184.6" x2="519.88" y2="191.1" stroke="#b63a3a" stroke-width="1.0"/>
<text transform="translate(519.1,185.4) rotate(-90)" font-size="6.2" fill="#202020" text-anchor="end" font-family="Liberation Sans" stroke="#202020" stroke-width="0.25">8</text>
<text transform="translate(522.91,181.3) rotate(-90)" font-size="6.8" fill="#202020" text-anchor="start" font-family="Liberation Sans" stroke="#202020" stroke-width="0.25">A2</text>
<line x1="527.02" y1="128.6" x2="527.02" y2="135.1" stroke="#b63a3a" stroke-width="1.0"/>
<text transform="translate(526.24,134.4) rotate(-90)" font-size="6.2" fill="#202020" text-anchor="start" font-family="Liberation Sans" stroke="#202020" stroke-width="0.25">20</text>
<text transform="translate(530.05,138.8) rotate(-90)" font-size="6.8" fill="#202020" text-anchor="end" font-family="Liberation Sans" stroke="#202020" stroke-width="0.25">CE#</text>
<line x1="527.02" y1="184.6" x2="527.02" y2="191.1" stroke="#b63a3a" stroke-width="1.0"/>
<text transform="translate(526.24,185.4) rotate(-90)" font-size="6.2" fill="#202020" text-anchor="end" font-family="Liberation Sans" stroke="#202020" stroke-width="0.25">9</text>
<text transform="translate(530.05,181.3) rotate(-90)" font-size="6.8" fill="#202020" text-anchor="start" font-family="Liberation Sans" stroke="#202020" stroke-width="0.25">A1</text>
<line x1="534.16" y1="128.6" x2="534.16" y2="135.1" stroke="#b63a3a" stroke-width="1.0"/>
<text transform="translate(533.38,134.4) rotate(-90)" font-size="6.2" fill="#202020" text-anchor="start" font-family="Liberation Sans" stroke="#202020" stroke-width="0.25">19</text>
<text transform="translate(537.19,138.8) rotate(-90)" font-size="6.8" fill="#202020" text-anchor="end" font-family="Liberation Sans" stroke="#202020" stroke-width="0.25">I/O7</text>
<line x1="534.16" y1="184.6" x2="534.16" y2="191.1" stroke="#b63a3a" stroke-width="1.0"/>
<text transform="translate(533.38,185.4) rotate(-90)" font-size="6.2" fill="#202020" text-anchor="end" font-family="Liberation Sans" stroke="#202020" stroke-width="0.25">10</text>
<text transform="translate(537.19,181.3) rotate(-90)" font-size="6.8" fill="#202020" text-anchor="start" font-family="Liberation Sans" stroke="#202020" stroke-width="0.25">A0</text>
<line x1="541.3" y1="128.6" x2="541.3" y2="135.1" stroke="#b63a3a" stroke-width="1.0"/>
<text transform="translate(540.52,134.4) rotate(-90)" font-size="6.2" fill="#202020" text-anchor="start" font-family="Liberation Sans" stroke="#202020" stroke-width="0.25">18</text>
<text transform="translate(544.33,138.8) rotate(-90)" font-size="6.8" fill="#202020" text-anchor="end" font-family="Liberation Sans" stroke="#202020" stroke-width="0.25">I/O6</text>
<line x1="541.3" y1="184.6" x2="541.3" y2="191.1" stroke="#b63a3a" stroke-width="1.0"/>
<text transform="translate(540.52,185.4) rotate(-90)" font-size="6.2" fill="#202020" text-anchor="end" font-family="Liberation Sans" stroke="#202020" stroke-width="0.25">11</text>
<text transform="translate(544.33,181.3) rotate(-90)" font-size="6.8" fill="#202020" text-anchor="start" font-family="Liberation Sans" stroke="#202020" stroke-width="0.25">I/O0</text>
<line x1="548.44" y1="128.6" x2="548.44" y2="135.1" stroke="#b63a3a" stroke-width="1.0"/>
<text transform="translate(547.66,134.4) rotate(-90)" font-size="6.2" fill="#202020" text-anchor="start" font-family="Liberation Sans" stroke="#202020" stroke-width="0.25">17</text>
<text transform="translate(551.47,138.8) rotate(-90)" font-size="6.8" fill="#202020" text-anchor="end" font-family="Liberation Sans" stroke="#202020" stroke-width="0.25">I/O5</text>
<line x1="548.44" y1="184.6" x2="548.44" y2="191.1" stroke="#b63a3a" stroke-width="1.0"/>
<text transform="translate(547.66,185.4) rotate(-90)" font-size="6.2" fill="#202020" text-anchor="end" font-family="Liberation Sans" stroke="#202020" stroke-width="0.25">12</text>
<text transform="translate(551.47,181.3) rotate(-90)" font-size="6.8" fill="#202020" text-anchor="start" font-family="Liberation Sans" stroke="#202020" stroke-width="0.25">I/O1</text>
<line x1="555.58" y1="128.6" x2="555.58" y2="135.1" stroke="#b63a3a" stroke-width="1.0"/>
<text transform="translate(554.8,134.4) rotate(-90)" font-size="6.2" fill="#202020" text-anchor="start" font-family="Liberation Sans" stroke="#202020" stroke-width="0.25">16</text>
<text transform="translate(558.61,138.8) rotate(-90)" font-size="6.8" fill="#202020" text-anchor="end" font-family="Liberation Sans" stroke="#202020" stroke-width="0.25">I/O4</text>
<line x1="555.58" y1="184.6" x2="555.58" y2="191.1" stroke="#b63a3a" stroke-width="1.0"/>
<text transform="translate(554.8,185.4) rotate(-90)" font-size="6.2" fill="#202020" text-anchor="end" font-family="Liberation Sans" stroke="#202020" stroke-width="0.25">13</text>
<text transform="translate(558.61,181.3) rotate(-90)" font-size="6.8" fill="#202020" text-anchor="start" font-family="Liberation Sans" stroke="#202020" stroke-width="0.25">I/O2</text>
<line x1="562.72" y1="128.6" x2="562.72" y2="135.1" stroke="#b63a3a" stroke-width="1.0"/>
<text transform="translate(561.94,134.4) rotate(-90)" font-size="6.2" fill="#202020" text-anchor="start" font-family="Liberation Sans" stroke="#202020" stroke-width="0.25">15</text>
<text transform="translate(565.75,138.8) rotate(-90)" font-size="6.8" fill="#202020" text-anchor="end" font-family="Liberation Sans" stroke="#202020" stroke-width="0.25">I/O3</text>
<line x1="562.72" y1="184.6" x2="562.72" y2="191.1" stroke="#b63a3a" stroke-width="1.0"/>
<text transform="translate(561.94,185.4) rotate(-90)" font-size="6.2" fill="#202020" text-anchor="end" font-family="Liberation Sans" stroke="#202020" stroke-width="0.25">14</text>
<text transform="translate(565.75,181.3) rotate(-90)" font-size="6.8" fill="#202020" text-anchor="start" font-family="Liberation Sans" stroke="#202020" stroke-width="0.25">GND</text>
<circle cx="466.8" cy="181.1" r="1" fill="none" stroke="#d00000" stroke-width="0.8"/>
<text x="573.3" y="133" font-size="7" fill="#34349a" text-anchor="start" font-family="Liberation Sans" stroke="#34349a" stroke-width="0.15">U1</text>
<line x1="462.7" y1="60.5" x2="477.3" y2="60.5" stroke="#b63a3a" stroke-width="1.0"/>
<line x1="470" y1="60.5" x2="470" y2="71" stroke="#b63a3a" stroke-width="1.0"/>
<text x="470.3" y="59.6" font-size="7.0" fill="#34349a" text-anchor="middle" font-family="Liberation Sans" stroke="#34349a" stroke-width="0.2">+5V</text>
<polyline points="469.9,71 469.9,128.6" stroke="#48a848" stroke-width="1.0" fill="none" stroke-linejoin="miter"/>
<polyline points="477.04,128.6 477.04,81.7 452.2,81.7 452.2,145.5" stroke="#48a848" stroke-width="1.0" fill="none" stroke-linejoin="miter"/>
<line x1="452.2" y1="145.9" x2="452.2" y2="158.4" stroke="#b63a3a" stroke-width="1.0"/>
<line x1="452.2" y1="161.6" x2="452.2" y2="174.1" stroke="#b63a3a" stroke-width="1.0"/>
<line x1="445.9" y1="158.4" x2="458.5" y2="158.4" stroke="#b63a3a" stroke-width="1.0"/>
<line x1="445.9" y1="161.6" x2="458.5" y2="161.6" stroke="#b63a3a" stroke-width="1.0"/>
<polyline points="452.2,174 452.2,241.6 562.72,241.6" stroke="#48a848" stroke-width="1.0" fill="none" stroke-linejoin="miter"/>
<polyline points="484.18,128.6 484.18,81.7 576.7,81.7 576.7,195.3 562.72,195.3" stroke="#48a848" stroke-width="1.0" fill="none" stroke-linejoin="miter"/>
<polyline points="505.6,81.7 505.6,128.6" stroke="#48a848" stroke-width="1.0" fill="none" stroke-linejoin="miter"/>
<polyline points="512.74,81.7 512.74,128.6" stroke="#48a848" stroke-width="1.0" fill="none" stroke-linejoin="miter"/>
<text x="462.2" y="150.5" font-size="7.3" fill="#34349a" text-anchor="start" font-family="Liberation Sans" stroke="#34349a" stroke-width="0.15">C1</text>
<text x="464" y="158.5" font-size="6.7" fill="#2c2cf0" text-anchor="start" font-family="Liberation Sans" >100nF</text>
<polygon points="487.52,99.2 495.12,99.2 495.12,113.6 491.32,120.6 487.52,113.6" stroke="#b63a3a" stroke-width="1.0" fill="none" stroke-linejoin="miter"/>
<line x1="491.32" y1="120.6" x2="491.32" y2="126.5" stroke="#b63a3a" stroke-width="1.0"/>
<polyline points="491.32,126.5 491.32,128.6" stroke="#48a848" stroke-width="1.0" fill="none" stroke-linejoin="miter"/>
<text transform="translate(493.83,95) rotate(-90)" font-size="7.0" fill="#2c2cf0" text-anchor="start" font-family="Liberation Sans" stroke="#2c2cf0" stroke-width="0.1">A8</text>
<polygon points="494.66,99.2 502.26,99.2 502.26,113.6 498.46,120.6 494.66,113.6" stroke="#b63a3a" stroke-width="1.0" fill="none" stroke-linejoin="miter"/>
<line x1="498.46" y1="120.6" x2="498.46" y2="126.5" stroke="#b63a3a" stroke-width="1.0"/>
<polyline points="498.46,126.5 498.46,128.6" stroke="#48a848" stroke-width="1.0" fill="none" stroke-linejoin="miter"/>
<text transform="translate(500.97,95) rotate(-90)" font-size="7.0" fill="#2c2cf0" text-anchor="start" font-family="Liberation Sans" stroke="#2c2cf0" stroke-width="0.1">A9</text>
<polygon points="516.08,99.2 523.68,99.2 523.68,113.6 519.88,120.6 516.08,113.6" stroke="#b63a3a" stroke-width="1.0" fill="none" stroke-linejoin="miter"/>
<line x1="519.88" y1="120.6" x2="519.88" y2="126.5" stroke="#b63a3a" stroke-width="1.0"/>
<polyline points="519.88,126.5 519.88,128.6" stroke="#48a848" stroke-width="1.0" fill="none" stroke-linejoin="miter"/>
<text transform="translate(522.39,95) rotate(-90)" font-size="7.0" fill="#2c2cf0" text-anchor="start" font-family="Liberation Sans" stroke="#2c2cf0" stroke-width="0.1">A10</text>
<polygon points="523.22,99.2 530.82,99.2 530.82,113.6 527.02,120.6 523.22,113.6" stroke="#b63a3a" stroke-width="1.0" fill="none" stroke-linejoin="miter"/>
<line x1="527.02" y1="120.6" x2="527.02" y2="126.5" stroke="#b63a3a" stroke-width="1.0"/>
<polyline points="527.02,126.5 527.02,128.6" stroke="#48a848" stroke-width="1.0" fill="none" stroke-linejoin="miter"/>
<text transform="translate(529.53,95) rotate(-90)" font-size="7.0" fill="#2c2cf0" text-anchor="start" font-family="Liberation Sans" stroke="#2c2cf0" stroke-width="0.1">ROM_EN</text>
<polygon points="534.16,100 537.96,106 537.96,120.6 530.36,120.6 530.36,106" stroke="#b63a3a" stroke-width="1.0" fill="none" stroke-linejoin="miter"/>
<line x1="534.16" y1="120.6" x2="534.16" y2="126.5" stroke="#b63a3a" stroke-width="1.0"/>
<polyline points="534.16,126.5 534.16,128.6" stroke="#48a848" stroke-width="1.0" fill="none" stroke-linejoin="miter"/>
<text transform="translate(536.67,95) rotate(-90)" font-size="7.0" fill="#2c2cf0" text-anchor="start" font-family="Liberation Sans" stroke="#2c2cf0" stroke-width="0.1">D7</text>
<polygon points="541.3,100 545.1,106 545.1,120.6 537.5,120.6 537.5,106" stroke="#b63a3a" stroke-width="1.0" fill="none" stroke-linejoin="miter"/>
<line x1="541.3" y1="120.6" x2="541.3" y2="126.5" stroke="#b63a3a" stroke-width="1.0"/>
<polyline points="541.3,126.5 541.3,128.6" stroke="#48a848" stroke-width="1.0" fill="none" stroke-linejoin="miter"/>
<text transform="translate(543.81,95) rotate(-90)" font-size="7.0" fill="#2c2cf0" text-anchor="start" font-family="Liberation Sans" stroke="#2c2cf0" stroke-width="0.1">D6</text>
<polygon points="548.44,100 552.24,106 552.24,120.6 544.64,120.6 544.64,106" stroke="#b63a3a" stroke-width="1.0" fill="none" stroke-linejoin="miter"/>
<line x1="548.44" y1="120.6" x2="548.44" y2="126.5" stroke="#b63a3a" stroke-width="1.0"/>
<polyline points="548.44,126.5 548.44,128.6" stroke="#48a848" stroke-width="1.0" fill="none" stroke-linejoin="miter"/>
<text transform="translate(550.95,95) rotate(-90)" font-size="7.0" fill="#2c2cf0" text-anchor="start" font-family="Liberation Sans" stroke="#2c2cf0" stroke-width="0.1">D5</text>
<polygon points="555.58,100 559.38,106 559.38,120.6 551.78,120.6 551.78,106" stroke="#b63a3a" stroke-width="1.0" fill="none" stroke-linejoin="miter"/>
<line x1="555.58" y1="120.6" x2="555.58" y2="126.5" stroke="#b63a3a" stroke-width="1.0"/>
<polyline points="555.58,126.5 555.58,128.6" stroke="#48a848" stroke-width="1.0" fill="none" stroke-linejoin="miter"/>
<text transform="translate(558.09,95) rotate(-90)" font-size="7.0" fill="#2c2cf0" text-anchor="start" font-family="Liberation Sans" stroke="#2c2cf0" stroke-width="0.1">D4</text>
<polygon points="562.72,100 566.52,106 566.52,120.6 558.92,120.6 558.92,106" stroke="#b63a3a" stroke-width="1.0" fill="none" stroke-linejoin="miter"/>
<line x1="562.72" y1="120.6" x2="562.72" y2="126.5" stroke="#b63a3a" stroke-width="1.0"/>
<polyline points="562.72,126.5 562.72,128.6" stroke="#48a848" stroke-width="1.0" fill="none" stroke-linejoin="miter"/>
<text transform="translate(565.23,95) rotate(-90)" font-size="7.0" fill="#2c2cf0" text-anchor="start" font-family="Liberation Sans" stroke="#2c2cf0" stroke-width="0.1">D3</text>
<polyline points="469.9,191.1 469.9,241.6" stroke="#48a848" stroke-width="1.0" fill="none" stroke-linejoin="miter"/>
<polyline points="477.04,191.1 477.04,241.6" stroke="#48a848" stroke-width="1.0" fill="none" stroke-linejoin="miter"/>
<polyline points="484.18,191.1 484.18,193" stroke="#48a848" stroke-width="1.0" fill="none" stroke-linejoin="miter"/>
<line x1="484.18" y1="193" x2="484.18" y2="199.6" stroke="#b63a3a" stroke-width="1.0"/>
<polygon points="484.18,199.6 487.98,204.6 487.98,220.2 480.38,220.2 480.38,204.6" stroke="#b63a3a" stroke-width="1.0" fill="none" stroke-linejoin="miter"/>
<polyline points="491.32,191.1 491.32,193" stroke="#48a848" stroke-width="1.0" fill="none" stroke-linejoin="miter"/>
<line x1="491.32" y1="193" x2="491.32" y2="199.6" stroke="#b63a3a" stroke-width="1.0"/>
<polygon points="491.32,199.6 495.12,204.6 495.12,220.2 487.52,220.2 487.52,204.6" stroke="#b63a3a" stroke-width="1.0" fill="none" stroke-linejoin="miter"/>
<polyline points="498.46,191.1 498.46,193" stroke="#48a848" stroke-width="1.0" fill="none" stroke-linejoin="miter"/>
<line x1="498.46" y1="193" x2="498.46" y2="199.6" stroke="#b63a3a" stroke-width="1.0"/>
<polygon points="498.46,199.6 502.26,204.6 502.26,220.2 494.66,220.2 494.66,204.6" stroke="#b63a3a" stroke-width="1.0" fill="none" stroke-linejoin="miter"/>
<polyline points="505.6,191.1 505.6,193" stroke="#48a848" stroke-width="1.0" fill="none" stroke-linejoin="miter"/>
<line x1="505.6" y1="193" x2="505.6" y2="199.6" stroke="#b63a3a" stroke-width="1.0"/>
<polygon points="505.6,199.6 509.4,204.6 509.4,220.2 501.8,220.2 501.8,204.6" stroke="#b63a3a" stroke-width="1.0" fill="none" stroke-linejoin="miter"/>
<polyline points="512.74,191.1 512.74,193" stroke="#48a848" stroke-width="1.0" fill="none" stroke-linejoin="miter"/>
<line x1="512.74" y1="193" x2="512.74" y2="199.6" stroke="#b63a3a" stroke-width="1.0"/>
<polygon points="512.74,199.6 516.54,204.6 516.54,220.2 508.94,220.2 508.94,204.6" stroke="#b63a3a" stroke-width="1.0" fill="none" stroke-linejoin="miter"/>
<polyline points="519.88,191.1 519.88,193" stroke="#48a848" stroke-width="1.0" fill="none" stroke-linejoin="miter"/>
<line x1="519.88" y1="193" x2="519.88" y2="199.6" stroke="#b63a3a" stroke-width="1.0"/>
<polygon points="519.88,199.6 523.68,204.6 523.68,220.2 516.08,220.2 516.08,204.6" stroke="#b63a3a" stroke-width="1.0" fill="none" stroke-linejoin="miter"/>
<polyline points="527.02,191.1 527.02,193" stroke="#48a848" stroke-width="1.0" fill="none" stroke-linejoin="miter"/>
<line x1="527.02" y1="193" x2="527.02" y2="199.6" stroke="#b63a3a" stroke-width="1.0"/>
<polygon points="527.02,199.6 530.82,204.6 530.82,220.2 523.22,220.2 523.22,204.6" stroke="#b63a3a" stroke-width="1.0" fill="none" stroke-linejoin="miter"/>
<polyline points="534.16,191.1 534.16,193" stroke="#48a848" stroke-width="1.0" fill="none" stroke-linejoin="miter"/>
<line x1="534.16" y1="193" x2="534.16" y2="199.6" stroke="#b63a3a" stroke-width="1.0"/>
<polygon points="534.16,199.6 537.96,204.6 537.96,220.2 530.36,220.2 530.36,204.6" stroke="#b63a3a" stroke-width="1.0" fill="none" stroke-linejoin="miter"/>
<polyline points="541.3,191.1 541.3,193" stroke="#48a848" stroke-width="1.0" fill="none" stroke-linejoin="miter"/>
<line x1="541.3" y1="193" x2="541.3" y2="199.2" stroke="#b63a3a" stroke-width="1.0"/>
<polygon points="537.5,199.2 545.1,199.2 545.1,213.2 541.3,220.2 537.5,213.2" stroke="#b63a3a" stroke-width="1.0" fill="none" stroke-linejoin="miter"/>
<polyline points="548.44,191.1 548.44,193" stroke="#48a848" stroke-width="1.0" fill="none" stroke-linejoin="miter"/>
<line x1="548.44" y1="193" x2="548.44" y2="199.2" stroke="#b63a3a" stroke-width="1.0"/>
<polygon points="544.64,199.2 552.24,199.2 552.24,213.2 548.44,220.2 544.64,213.2" stroke="#b63a3a" stroke-width="1.0" fill="none" stroke-linejoin="miter"/>
<polyline points="555.58,191.1 555.58,193" stroke="#48a848" stroke-width="1.0" fill="none" stroke-linejoin="miter"/>
<line x1="555.58" y1="193" x2="555.58" y2="199.2" stroke="#b63a3a" stroke-width="1.0"/>
<polygon points="551.78,199.2 559.38,199.2 559.38,213.2 555.58,220.2 551.78,213.2" stroke="#b63a3a" stroke-width="1.0" fill="none" stroke-linejoin="miter"/>
<polyline points="562.72,191.1 562.72,252.5" stroke="#48a848" stroke-width="1.0" fill="none" stroke-linejoin="miter"/>
<text transform="translate(486.69,224.2) rotate(-90)" font-size="7.0" fill="#2c2cf0" text-anchor="end" font-family="Liberation Sans" stroke="#2c2cf0" stroke-width="0.1">A7</text>
<text transform="translate(493.83,224.2) rotate(-90)" font-size="7.0" fill="#2c2cf0" text-anchor="end" font-family="Liberation Sans" stroke="#2c2cf0" stroke-width="0.1">A6</text>
<text transform="translate(500.97,224.2) rotate(-90)" font-size="7.0" fill="#2c2cf0" text-anchor="end" font-family="Liberation Sans" stroke="#2c2cf0" stroke-width="0.1">A5</text>
<text transform="translate(508.11,224.2) rotate(-90)" font-size="7.0" fill="#2c2cf0" text-anchor="end" font-family="Liberation Sans" stroke="#2c2cf0" stroke-width="0.1">A4</text>
<text transform="translate(515.25,224.2) rotate(-90)" font-size="7.0" fill="#2c2cf0" text-anchor="end" font-family="Liberation Sans" stroke="#2c2cf0" stroke-width="0.1">A3</text>
<text transform="translate(522.39,224.2) rotate(-90)" font-size="7.0" fill="#2c2cf0" text-anchor="end" font-family="Liberation Sans" stroke="#2c2cf0" stroke-width="0.1">A2</text>
<text transform="translate(529.53,224.2) rotate(-90)" font-size="7.0" fill="#2c2cf0" text-anchor="end" font-family="Liberation Sans" stroke="#2c2cf0" stroke-width="0.1">A1</text>
<text transform="translate(536.67,224.2) rotate(-90)" font-size="7.0" fill="#2c2cf0" text-anchor="end" font-family="Liberation Sans" stroke="#2c2cf0" stroke-width="0.1">A0</text>
<text transform="translate(543.81,224.2) rotate(-90)" font-size="7.0" fill="#2c2cf0" text-anchor="end" font-family="Liberation Sans" stroke="#2c2cf0" stroke-width="0.1">D0</text>
<text transform="translate(550.95,224.2) rotate(-90)" font-size="7.0" fill="#2c2cf0" text-anchor="end" font-family="Liberation Sans" stroke="#2c2cf0" stroke-width="0.1">D1</text>
<text transform="translate(558.09,224.2) rotate(-90)" font-size="7.0" fill="#2c2cf0" text-anchor="end" font-family="Liberation Sans" stroke="#2c2cf0" stroke-width="0.1">D2</text>
<line x1="562.72" y1="252.5" x2="562.72" y2="259.3" stroke="#b63a3a" stroke-width="1.0"/>
<line x1="555.22" y1="259.3" x2="570.22" y2="259.3" stroke="#b63a3a" stroke-width="1.0"/>
<line x1="557.52" y1="261.5" x2="567.92" y2="261.5" stroke="#b63a3a" stroke-width="1.0"/>
<line x1="559.72" y1="263.7" x2="565.72" y2="263.7" stroke="#b63a3a" stroke-width="1.0"/>
<line x1="561.72" y1="265.9" x2="563.72" y2="265.9" stroke="#b63a3a" stroke-width="1.0"/>
<text x="562.72" y="272.5" font-size="6.8" fill="#34349a" text-anchor="middle" font-family="Liberation Sans" stroke="#34349a" stroke-width="0.2">GND</text>
<circle cx="5.07" cy="351.7" r="1.1" fill="#8a8a8a"/>
<line x1="5.07" y1="351.7" x2="5.07" y2="358.7" stroke="#b63a3a" stroke-width="1.0"/>
<line x1="-2.43" y1="358.7" x2="12.57" y2="358.7" stroke="#b63a3a" stroke-width="1.0"/>
<line x1="-0.13" y1="360.9" x2="10.27" y2="360.9" stroke="#b63a3a" stroke-width="1.0"/>
<line x1="2.07" y1="363.1" x2="8.07" y2="363.1" stroke="#b63a3a" stroke-width="1.0"/>
<line x1="4.07" y1="365.3" x2="6.07" y2="365.3" stroke="#b63a3a" stroke-width="1.0"/>
<text x="5.07" y="372.3" font-size="6.8" fill="#34349a" text-anchor="middle" font-family="Liberation Sans" stroke="#34349a" stroke-width="0.2">GND</text>
<circle cx="15.7" cy="351.7" r="1.1" fill="#8a8a8a"/>
<line x1="15.7" y1="351.7" x2="15.7" y2="362.3" stroke="#b63a3a" stroke-width="1.0"/>
<line x1="8.4" y1="362.3" x2="23" y2="362.3" stroke="#b63a3a" stroke-width="1.0"/>
<text x="16.9" y="369.3" font-size="7.2" fill="#34349a" text-anchor="middle" font-family="Liberation Sans" stroke="#34349a" stroke-width="0.15">+5V</text>
<circle cx="26.33" cy="351.7" r="1.1" fill="#8a8a8a"/>
<line x1="26.33" y1="351.7" x2="26.33" y2="358.5" stroke="#b63a3a" stroke-width="1.0"/>
<polygon points="22.53,358.5 30.13,358.5 30.13,373.3 26.33,380.3 22.53,373.3" stroke="#b63a3a" stroke-width="1.0" fill="none" stroke-linejoin="miter"/>
<text transform="translate(28.84,384.3) rotate(-90)" font-size="7.0" fill="#2c2cf0" text-anchor="end" font-family="Liberation Sans" stroke="#2c2cf0" stroke-width="0.1">A8</text>
<circle cx="36.96" cy="351.7" r="1.1" fill="#8a8a8a"/>
<line x1="36.96" y1="351.7" x2="36.96" y2="358.5" stroke="#b63a3a" stroke-width="1.0"/>
<polygon points="33.16,358.5 40.76,358.5 40.76,373.3 36.96,380.3 33.16,373.3" stroke="#b63a3a" stroke-width="1.0" fill="none" stroke-linejoin="miter"/>
<text transform="translate(39.47,384.3) rotate(-90)" font-size="7.0" fill="#2c2cf0" text-anchor="end" font-family="Liberation Sans" stroke="#2c2cf0" stroke-width="0.1">A9</text>
<circle cx="47.59" cy="351.7" r="1.1" fill="#8a8a8a"/>
<line x1="47.59" y1="351.7" x2="47.59" y2="358.5" stroke="#b63a3a" stroke-width="1.0"/>
<polygon points="43.79,358.5 51.39,358.5 51.39,373.3 47.59,380.3 43.79,373.3" stroke="#b63a3a" stroke-width="1.0" fill="none" stroke-linejoin="miter"/>
<text transform="translate(50.1,384.3) rotate(-90)" font-size="7.0" fill="#2c2cf0" text-anchor="end" font-family="Liberation Sans" stroke="#2c2cf0" stroke-width="0.1">A11</text>
<circle cx="58.22" cy="351.7" r="1.1" fill="#8a8a8a"/>
<line x1="58.22" y1="351.7" x2="58.22" y2="358.5" stroke="#b63a3a" stroke-width="1.0"/>
<polygon points="54.42,358.5 62.02,358.5 62.02,373.3 58.22,380.3 54.42,373.3" stroke="#b63a3a" stroke-width="1.0" fill="none" stroke-linejoin="miter"/>
<text transform="translate(60.73,384.3) rotate(-90)" font-size="7.0" fill="#2c2cf0" text-anchor="end" font-family="Liberation Sans" stroke="#2c2cf0" stroke-width="0.1">A10</text>
<circle cx="68.85" cy="351.7" r="1.1" fill="#8a8a8a"/>
<line x1="68.85" y1="351.7" x2="68.85" y2="358.5" stroke="#b63a3a" stroke-width="1.0"/>
<polygon points="65.05,358.5 72.65,358.5 72.65,373.3 68.85,380.3 65.05,373.3" stroke="#b63a3a" stroke-width="1.0" fill="none" stroke-linejoin="miter"/>
<text transform="translate(71.36,384.3) rotate(-90)" font-size="7.0" fill="#2c2cf0" text-anchor="end" font-family="Liberation Sans" stroke="#2c2cf0" stroke-width="0.1">A12</text>
<circle cx="79.48" cy="351.7" r="1.1" fill="#8a8a8a"/>
<line x1="79.48" y1="351.7" x2="79.48" y2="358.5" stroke="#b63a3a" stroke-width="1.0"/>
<polygon points="79.48,358.7 83.48,366.7 83.48,372.3 79.48,380.3 75.48,372.3 75.48,366.7" stroke="#b63a3a" stroke-width="1.0" fill="none" stroke-linejoin="miter"/>
<text transform="translate(81.99,384.3) rotate(-90)" font-size="7.0" fill="#2c2cf0" text-anchor="end" font-family="Liberation Sans" stroke="#2c2cf0" stroke-width="0.1">D7</text>
<circle cx="90.11" cy="351.7" r="1.1" fill="#8a8a8a"/>
<line x1="90.11" y1="351.7" x2="90.11" y2="358.5" stroke="#b63a3a" stroke-width="1.0"/>
<polygon points="90.11,358.7 94.11,366.7 94.11,372.3 90.11,380.3 86.11,372.3 86.11,366.7" stroke="#b63a3a" stroke-width="1.0" fill="none" stroke-linejoin="miter"/>
<text transform="translate(92.62,384.3) rotate(-90)" font-size="7.0" fill="#2c2cf0" text-anchor="end" font-family="Liberation Sans" stroke="#2c2cf0" stroke-width="0.1">D6</text>
<circle cx="100.74" cy="351.7" r="1.1" fill="#8a8a8a"/>
<line x1="100.74" y1="351.7" x2="100.74" y2="358.5" stroke="#b63a3a" stroke-width="1.0"/>
<polygon points="100.74,358.7 104.74,366.7 104.74,372.3 100.74,380.3 96.74,372.3 96.74,366.7" stroke="#b63a3a" stroke-width="1.0" fill="none" stroke-linejoin="miter"/>
<text transform="translate(103.25,384.3) rotate(-90)" font-size="7.0" fill="#2c2cf0" text-anchor="end" font-family="Liberation Sans" stroke="#2c2cf0" stroke-width="0.1">D5</text>
<circle cx="111.37" cy="351.7" r="1.1" fill="#8a8a8a"/>
<line x1="111.37" y1="351.7" x2="111.37" y2="358.5" stroke="#b63a3a" stroke-width="1.0"/>
<polygon points="111.37,358.7 115.37,366.7 115.37,372.3 111.37,380.3 107.37,372.3 107.37,366.7" stroke="#b63a3a" stroke-width="1.0" fill="none" stroke-linejoin="miter"/>
<text transform="translate(113.88,384.3) rotate(-90)" font-size="7.0" fill="#2c2cf0" text-anchor="end" font-family="Liberation Sans" stroke="#2c2cf0" stroke-width="0.1">D4</text>
<circle cx="122" cy="351.7" r="1.1" fill="#8a8a8a"/>
<line x1="122" y1="351.7" x2="122" y2="358.5" stroke="#b63a3a" stroke-width="1.0"/>
<polygon points="122,358.7 126,366.7 126,372.3 122,380.3 118,372.3 118,366.7" stroke="#b63a3a" stroke-width="1.0" fill="none" stroke-linejoin="miter"/>
<text transform="translate(124.51,384.3) rotate(-90)" font-size="7.0" fill="#2c2cf0" text-anchor="end" font-family="Liberation Sans" stroke="#2c2cf0" stroke-width="0.1">D3</text>
<circle cx="5.07" cy="440.3" r="1.1" fill="#8a8a8a"/>
<line x1="5.07" y1="433.3" x2="5.07" y2="440.3" stroke="#b63a3a" stroke-width="1.0"/>
<polygon points="5.07,412.3 8.87,418.8 8.87,433.3 1.27,433.3 1.27,418.8" stroke="#b63a3a" stroke-width="1.0" fill="none" stroke-linejoin="miter"/>
<text transform="translate(7.58,408.6) rotate(-90)" font-size="7.0" fill="#2c2cf0" text-anchor="start" font-family="Liberation Sans" stroke="#2c2cf0" stroke-width="0.1">A7</text>
<circle cx="15.7" cy="440.3" r="1.1" fill="#8a8a8a"/>
<line x1="15.7" y1="433.3" x2="15.7" y2="440.3" stroke="#b63a3a" stroke-width="1.0"/>
<polygon points="15.7,412.3 19.5,418.8 19.5,433.3 11.9,433.3 11.9,418.8" stroke="#b63a3a" stroke-width="1.0" fill="none" stroke-linejoin="miter"/>
<text transform="translate(18.21,408.6) rotate(-90)" font-size="7.0" fill="#2c2cf0" text-anchor="start" font-family="Liberation Sans" stroke="#2c2cf0" stroke-width="0.1">A6</text>
<circle cx="26.33" cy="440.3" r="1.1" fill="#8a8a8a"/>
<line x1="26.33" y1="433.3" x2="26.33" y2="440.3" stroke="#b63a3a" stroke-width="1.0"/>
<polygon points="26.33,412.3 30.13,418.8 30.13,433.3 22.53,433.3 22.53,418.8" stroke="#b63a3a" stroke-width="1.0" fill="none" stroke-linejoin="miter"/>
<text transform="translate(28.84,408.6) rotate(-90)" font-size="7.0" fill="#2c2cf0" text-anchor="start" font-family="Liberation Sans" stroke="#2c2cf0" stroke-width="0.1">A5</text>
<circle cx="36.96" cy="440.3" r="1.1" fill="#8a8a8a"/>
<line x1="36.96" y1="433.3" x2="36.96" y2="440.3" stroke="#b63a3a" stroke-width="1.0"/>
<polygon points="36.96,412.3 40.76,418.8 40.76,433.3 33.16,433.3 33.16,418.8" stroke="#b63a3a" stroke-width="1.0" fill="none" stroke-linejoin="miter"/>
<text transform="translate(39.47,408.6) rotate(-90)" font-size="7.0" fill="#2c2cf0" text-anchor="start" font-family="Liberation Sans" stroke="#2c2cf0" stroke-width="0.1">A4</text>
<circle cx="47.59" cy="440.3" r="1.1" fill="#8a8a8a"/>
<line x1="47.59" y1="433.3" x2="47.59" y2="440.3" stroke="#b63a3a" stroke-width="1.0"/>
<polygon points="47.59,412.3 51.39,418.8 51.39,433.3 43.79,433.3 43.79,418.8" stroke="#b63a3a" stroke-width="1.0" fill="none" stroke-linejoin="miter"/>
<text transform="translate(50.1,408.6) rotate(-90)" font-size="7.0" fill="#2c2cf0" text-anchor="start" font-family="Liberation Sans" stroke="#2c2cf0" stroke-width="0.1">A3</text>
<circle cx="58.22" cy="440.3" r="1.1" fill="#8a8a8a"/>
<line x1="58.22" y1="433.3" x2="58.22" y2="440.3" stroke="#b63a3a" stroke-width="1.0"/>
<polygon points="58.22,412.3 62.02,418.8 62.02,433.3 54.42,433.3 54.42,418.8" stroke="#b63a3a" stroke-width="1.0" fill="none" stroke-linejoin="miter"/>
<text transform="translate(60.73,408.6) rotate(-90)" font-size="7.0" fill="#2c2cf0" text-anchor="start" font-family="Liberation Sans" stroke="#2c2cf0" stroke-width="0.1">A2</text>
<circle cx="68.85" cy="440.3" r="1.1" fill="#8a8a8a"/>
<line x1="68.85" y1="433.3" x2="68.85" y2="440.3" stroke="#b63a3a" stroke-width="1.0"/>
<polygon points="68.85,412.3 72.65,418.8 72.65,433.3 65.05,433.3 65.05,418.8" stroke="#b63a3a" stroke-width="1.0" fill="none" stroke-linejoin="miter"/>
<text transform="translate(71.36,408.6) rotate(-90)" font-size="7.0" fill="#2c2cf0" text-anchor="start" font-family="Liberation Sans" stroke="#2c2cf0" stroke-width="0.1">A1</text>
<circle cx="79.48" cy="440.3" r="1.1" fill="#8a8a8a"/>
<line x1="79.48" y1="433.3" x2="79.48" y2="440.3" stroke="#b63a3a" stroke-width="1.0"/>
<polygon points="79.48,412.3 83.28,418.8 83.28,433.3 75.68,433.3 75.68,418.8" stroke="#b63a3a" stroke-width="1.0" fill="none" stroke-linejoin="miter"/>
<text transform="translate(81.99,408.6) rotate(-90)" font-size="7.0" fill="#2c2cf0" text-anchor="start" font-family="Liberation Sans" stroke="#2c2cf0" stroke-width="0.1">A0</text>
<circle cx="90.11" cy="440.3" r="1.1" fill="#8a8a8a"/>
<line x1="90.11" y1="433.3" x2="90.11" y2="440.3" stroke="#b63a3a" stroke-width="1.0"/>
<polygon points="90.11,412.2 94.11,420.2 94.11,425 90.11,433 86.11,425 86.11,420.2" stroke="#b63a3a" stroke-width="1.0" fill="none" stroke-linejoin="miter"/>
<text transform="translate(92.62,408.6) rotate(-90)" font-size="7.0" fill="#2c2cf0" text-anchor="start" font-family="Liberation Sans" stroke="#2c2cf0" stroke-width="0.1">D0</text>
<circle cx="100.74" cy="440.3" r="1.1" fill="#8a8a8a"/>
<line x1="100.74" y1="433.3" x2="100.74" y2="440.3" stroke="#b63a3a" stroke-width="1.0"/>
<polygon points="100.74,412.2 104.74,420.2 104.74,425 100.74,433 96.74,425 96.74,420.2" stroke="#b63a3a" stroke-width="1.0" fill="none" stroke-linejoin="miter"/>
<text transform="translate(103.25,408.6) rotate(-90)" font-size="7.0" fill="#2c2cf0" text-anchor="start" font-family="Liberation Sans" stroke="#2c2cf0" stroke-width="0.1">D1</text>
<circle cx="111.37" cy="440.3" r="1.1" fill="#8a8a8a"/>
<line x1="111.37" y1="433.3" x2="111.37" y2="440.3" stroke="#b63a3a" stroke-width="1.0"/>
<polygon points="111.37,412.2 115.37,420.2 115.37,425 111.37,433 107.37,425 107.37,420.2" stroke="#b63a3a" stroke-width="1.0" fill="none" stroke-linejoin="miter"/>
<text transform="translate(113.88,408.6) rotate(-90)" font-size="7.0" fill="#2c2cf0" text-anchor="start" font-family="Liberation Sans" stroke="#2c2cf0" stroke-width="0.1">D2</text>
<circle cx="122" cy="440.3" r="1.1" fill="#8a8a8a"/>
<line x1="122" y1="433.3" x2="122" y2="440.3" stroke="#b63a3a" stroke-width="1.0"/>
<line x1="114.5" y1="433.3" x2="129.5" y2="433.3" stroke="#b63a3a" stroke-width="1.0"/>
<line x1="116.8" y1="431.1" x2="127.2" y2="431.1" stroke="#b63a3a" stroke-width="1.0"/>
<line x1="119" y1="428.9" x2="125" y2="428.9" stroke="#b63a3a" stroke-width="1.0"/>
<line x1="121" y1="426.7" x2="123" y2="426.7" stroke="#b63a3a" stroke-width="1.0"/>
<text x="122" y="425.4" font-size="6.8" fill="#34349a" text-anchor="middle" font-family="Liberation Sans" stroke="#34349a" stroke-width="0.2">GND</text>
<line x1="209.2" y1="458.2" x2="600" y2="458.2" stroke="#b83a3a" stroke-width="1.0"/>
<line x1="209.2" y1="486.3" x2="600" y2="486.3" stroke="#b83a3a" stroke-width="1.0"/>
<line x1="209.2" y1="500.5" x2="600" y2="500.5" stroke="#b83a3a" stroke-width="1.0"/>
<line x1="209.2" y1="514.8" x2="365.6" y2="514.8" stroke="#b83a3a" stroke-width="1.0"/>
<line x1="209.2" y1="529.2" x2="365.6" y2="529.2" stroke="#b83a3a" stroke-width="1.0"/>
<line x1="209.2" y1="543.4" x2="600" y2="543.4" stroke="#b83a3a" stroke-width="1.0"/>
<line x1="209.2" y1="557.4" x2="600" y2="557.4" stroke="#b83a3a" stroke-width="1.0"/>
<line x1="521.7" y1="472.3" x2="600" y2="472.3" stroke="#b83a3a" stroke-width="1.0"/>
<line x1="209.2" y1="458.2" x2="209.2" y2="585.6" stroke="#b83a3a" stroke-width="1.0"/>
<line x1="274.6" y1="458.2" x2="274.6" y2="557.4" stroke="#b83a3a" stroke-width="1.0"/>
<line x1="365.6" y1="500.5" x2="365.6" y2="585.6" stroke="#b83a3a" stroke-width="1.0"/>
<line x1="422.6" y1="543.4" x2="422.6" y2="585.6" stroke="#b83a3a" stroke-width="1.0"/>
<line x1="479.4" y1="543.4" x2="479.4" y2="585.6" stroke="#b83a3a" stroke-width="1.0"/>
<line x1="521.7" y1="458.2" x2="521.7" y2="500.5" stroke="#b83a3a" stroke-width="1.0"/>
<line x1="592.7" y1="458.2" x2="592.7" y2="500.5" stroke="#b83a3a" stroke-width="1.0"/>
<text x="216.7" y="476.6" font-size="12" fill="#a83030" stroke="#a83030" stroke-width="0.15" font-family="Liberation Mono" textLength="52" lengthAdjust="spacingAndGlyphs">Schematic</text>
<text x="218" y="497.4" font-size="12" fill="#a83030" stroke="#a83030" stroke-width="0.15" font-family="Liberation Mono" textLength="23" lengthAdjust="spacingAndGlyphs">Page</text>
<text x="216.7" y="511.6" font-size="12" fill="#a83030" stroke="#a83030" stroke-width="0.15" font-family="Liberation Mono" textLength="34.8" lengthAdjust="spacingAndGlyphs">Drawed</text>
<text x="216.7" y="525.5" font-size="12" fill="#a83030" stroke="#a83030" stroke-width="0.15" font-family="Liberation Mono" textLength="46.4" lengthAdjust="spacingAndGlyphs">Reviewed</text>
<text x="528.3" y="468.6" font-size="12" fill="#a83030" stroke="#a83030" stroke-width="0.15" font-family="Liberation Mono" textLength="63.8" lengthAdjust="spacingAndGlyphs">Update Date</text>
<text x="528.3" y="483" font-size="12" fill="#a83030" stroke="#a83030" stroke-width="0.15" font-family="Liberation Mono" textLength="63.8" lengthAdjust="spacingAndGlyphs">Create Date</text>
<text x="528.3" y="497" font-size="12" fill="#a83030" stroke="#a83030" stroke-width="0.15" font-family="Liberation Mono" textLength="63.8" lengthAdjust="spacingAndGlyphs">Part Number</text>
<text x="385.4" y="554" font-size="11.5" fill="#a83030" stroke="#a83030" stroke-width="0.1" font-family="Liberation Serif" textLength="17" lengthAdjust="spacingAndGlyphs">VER</text>
<text x="439.6" y="554" font-size="11.5" fill="#a83030" stroke="#a83030" stroke-width="0.1" font-family="Liberation Serif" textLength="22.4" lengthAdjust="spacingAndGlyphs">SIZE</text>
<text x="529" y="553.4" font-size="11.5" fill="#a83030" stroke="#a83030" stroke-width="0.1" font-family="Liberation Serif" textLength="22.4" lengthAdjust="spacingAndGlyphs">PAGE</text>
<text x="280.8" y="511.7" font-size="10.2" fill="#2e2e9e" font-family="Liberation Sans" textLength="64" lengthAdjust="spacingAndGlyphs">EasyEDA Pro</text>
<text x="280.8" y="525.5" font-size="10.2" fill="#2e2e9e" font-family="Liberation Sans" textLength="64" lengthAdjust="spacingAndGlyphs">EasyEDA Pro</text>
<text x="366" y="477.6" font-size="14.2" fill="#2e2e9e" text-anchor="start" font-family="Liberation Sans" >Schematic1</text>
<text x="396.6" y="497.4" font-size="10" fill="#2e2e9e" text-anchor="start" font-family="Liberation Sans" >P1</text>
<text x="486" y="526.7" font-size="14.15" fill="#2e2e9e" text-anchor="start" font-family="Liberation Sans" >Wozmon2600_2</text>
<text x="583.7" y="553" font-size="10" fill="#2e2e9e" text-anchor="middle" font-family="Liberation Sans" >1</text>
<text x="393.9" y="576" font-size="10.8" fill="#2e2e9e" text-anchor="middle" font-family="Liberation Sans" >V0.1</text>
<text x="452.3" y="576" font-size="10.8" fill="#2e2e9e" text-anchor="middle" font-family="Liberation Sans" >A4</text>
<text x="555.6" y="576" font-size="15" fill="#2e2e9e" text-anchor="start" font-family="Liberation Sans" >@dadecoza</text>
<g fill="none" stroke="#4a7df2" stroke-width="2" stroke-linecap="round" stroke-linejoin="round"><path d="M245.3,577 C239.3,576.5 239,568 244.8,567.8 C246.5,562.8 257.5,562.5 259,568.8 C265,569 265.5,578.6 259.8,578.7 L257.3,578.7"/><path d="M250.3,576.8 L256.3,574"/><circle cx="247.7" cy="578.3" r="2.9"/></g>
<text x="269" y="579.4" font-size="16.5" fill="#4a7df2" stroke="#4a7df2" stroke-width="0.7" font-family="Liberation Sans" font-style="italic" textLength="71.5" lengthAdjust="spacingAndGlyphs">EasyEDA</text>
<circle cx="72.34" cy="117.5" r="1.7" fill="#d00000"/>
<circle cx="61.66" cy="174.4" r="1.7" fill="#d00000"/>
<circle cx="40.3" cy="216.6" r="1.7" fill="#d00000"/>
<circle cx="47.42" cy="216.6" r="1.7" fill="#d00000"/>
<circle cx="214.5" cy="81.7" r="1.7" fill="#d00000"/>
<circle cx="267.8" cy="81.7" r="1.7" fill="#d00000"/>
<circle cx="274.94" cy="81.7" r="1.7" fill="#d00000"/>
<circle cx="282.08" cy="81.7" r="1.7" fill="#d00000"/>
<circle cx="232.1" cy="241.7" r="1.7" fill="#d00000"/>
<circle cx="239.24" cy="241.7" r="1.7" fill="#d00000"/>
<circle cx="324.92" cy="241.7" r="1.7" fill="#d00000"/>
<circle cx="469.9" cy="81.7" r="1.7" fill="#d00000"/>
<circle cx="505.6" cy="81.7" r="1.7" fill="#d00000"/>
<circle cx="512.74" cy="81.7" r="1.7" fill="#d00000"/>
<circle cx="469.9" cy="241.6" r="1.7" fill="#d00000"/>
<circle cx="477.04" cy="241.6" r="1.7" fill="#d00000"/>
<circle cx="562.72" cy="195.3" r="1.7" fill="#d00000"/>
<circle cx="562.72" cy="241.6" r="1.7" fill="#d00000"/>
</svg></body></html>
